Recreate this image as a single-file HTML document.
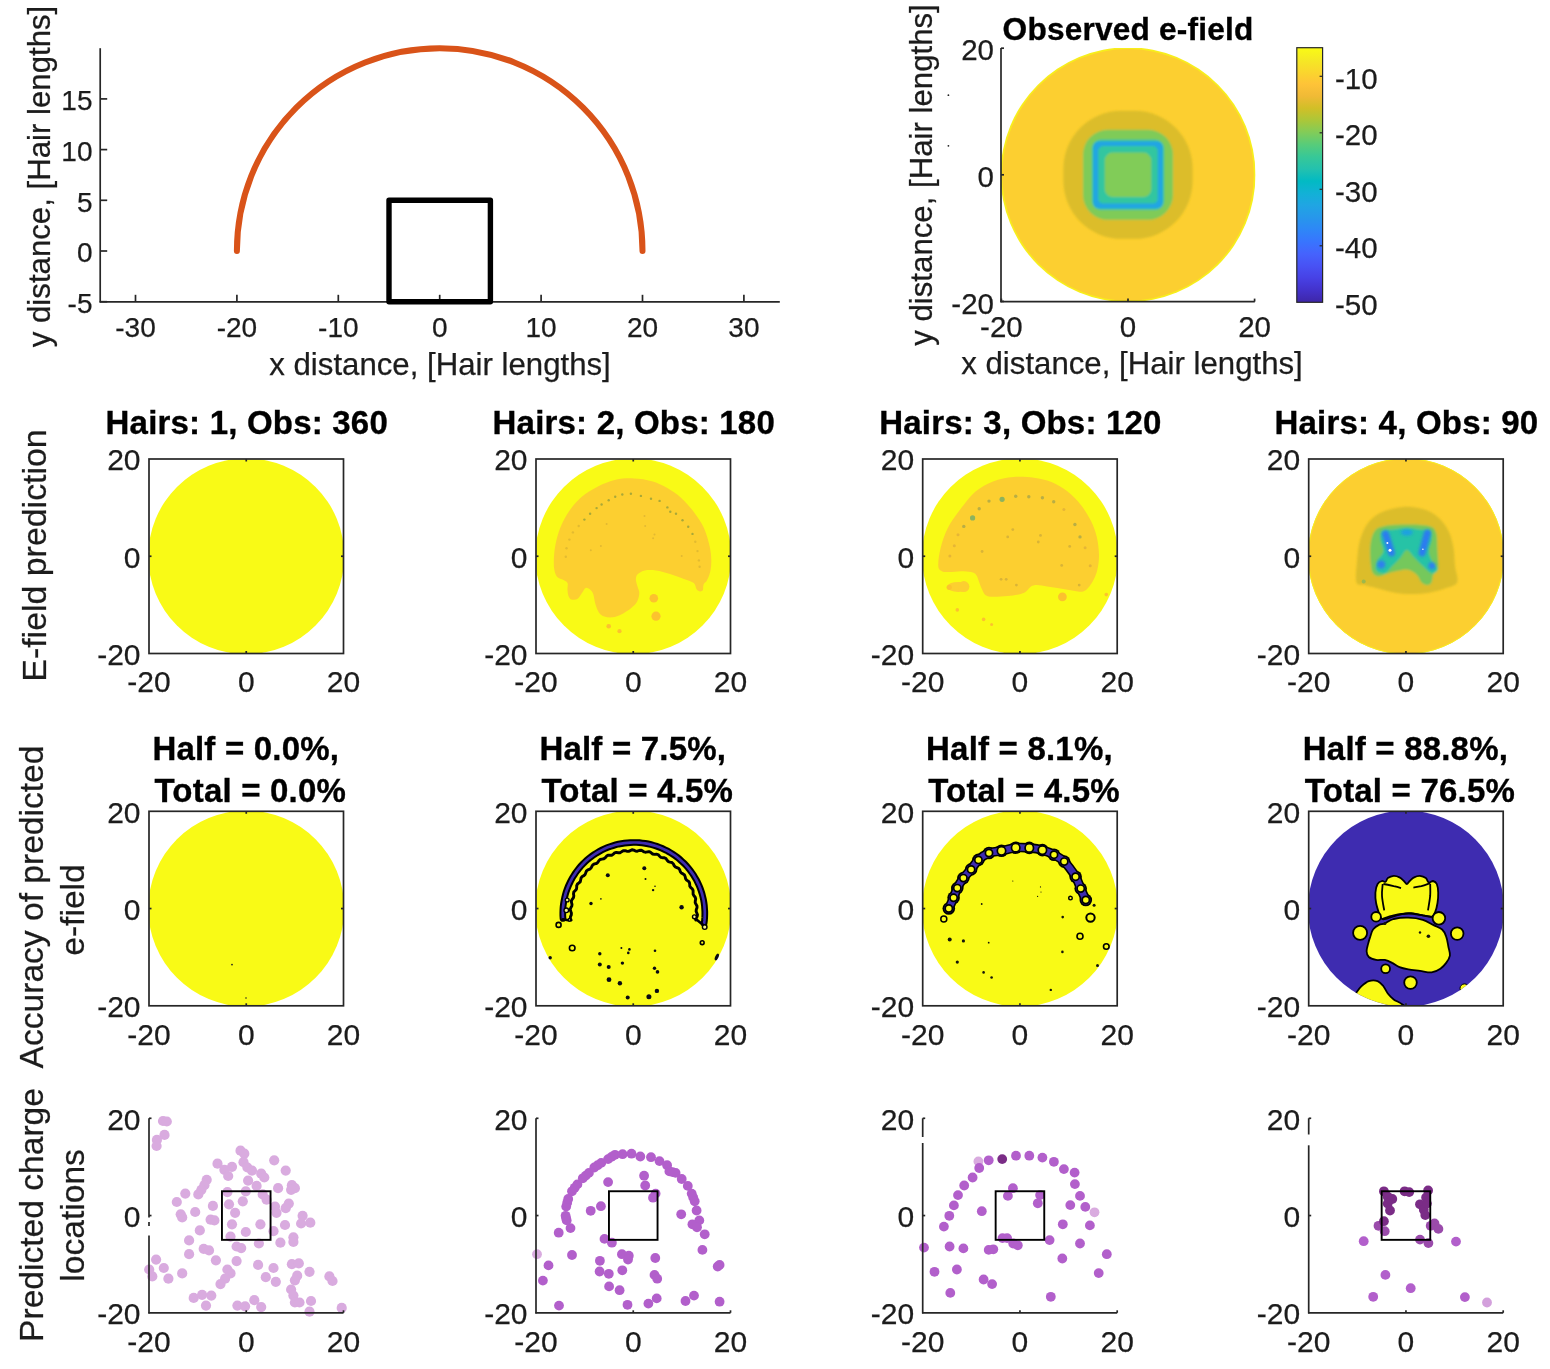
<!DOCTYPE html>
<html><head><meta charset="utf-8"><title>Figure</title>
<style>html,body{margin:0;padding:0;background:#fff}svg{display:block}text{font-family:"Liberation Sans", sans-serif;fill:#1c1c1c;stroke:#1c1c1c;stroke-width:0.25px}</style>
</head><body>
<svg width="1550" height="1369" viewBox="0 0 1550 1369">
<rect width="1550" height="1369" fill="#fff"/>
<line x1="100.2" y1="48.2" x2="100.2" y2="302.45" stroke="#262626" stroke-width="1.7"/>
<line x1="99.55" y1="301.8" x2="779.8" y2="301.8" stroke="#262626" stroke-width="1.7"/>
<line x1="135.49999999999994" y1="301.8" x2="135.49999999999994" y2="294.8" stroke="#262626" stroke-width="1.7"/>
<text x="135.49999999999994" y="336.7" font-size="28" text-anchor="middle" font-weight="normal">-30</text>
<line x1="236.89999999999998" y1="301.8" x2="236.89999999999998" y2="294.8" stroke="#262626" stroke-width="1.7"/>
<text x="236.89999999999998" y="336.7" font-size="28" text-anchor="middle" font-weight="normal">-20</text>
<line x1="338.29999999999995" y1="301.8" x2="338.29999999999995" y2="294.8" stroke="#262626" stroke-width="1.7"/>
<text x="338.29999999999995" y="336.7" font-size="28" text-anchor="middle" font-weight="normal">-10</text>
<line x1="439.7" y1="301.8" x2="439.7" y2="294.8" stroke="#262626" stroke-width="1.7"/>
<text x="439.7" y="336.7" font-size="28" text-anchor="middle" font-weight="normal">0</text>
<line x1="541.1" y1="301.8" x2="541.1" y2="294.8" stroke="#262626" stroke-width="1.7"/>
<text x="541.1" y="336.7" font-size="28" text-anchor="middle" font-weight="normal">10</text>
<line x1="642.5" y1="301.8" x2="642.5" y2="294.8" stroke="#262626" stroke-width="1.7"/>
<text x="642.5" y="336.7" font-size="28" text-anchor="middle" font-weight="normal">20</text>
<line x1="743.9000000000001" y1="301.8" x2="743.9000000000001" y2="294.8" stroke="#262626" stroke-width="1.7"/>
<text x="743.9000000000001" y="336.7" font-size="28" text-anchor="middle" font-weight="normal">30</text>
<line x1="100.2" y1="301.7" x2="107.2" y2="301.7" stroke="#262626" stroke-width="1.7"/>
<text x="92.5" y="312.9" font-size="28" text-anchor="end" font-weight="normal">-5</text>
<line x1="100.2" y1="251.0" x2="107.2" y2="251.0" stroke="#262626" stroke-width="1.7"/>
<text x="92.5" y="262.2" font-size="28" text-anchor="end" font-weight="normal">0</text>
<line x1="100.2" y1="200.3" x2="107.2" y2="200.3" stroke="#262626" stroke-width="1.7"/>
<text x="92.5" y="211.5" font-size="28" text-anchor="end" font-weight="normal">5</text>
<line x1="100.2" y1="149.6" x2="107.2" y2="149.6" stroke="#262626" stroke-width="1.7"/>
<text x="92.5" y="160.79999999999998" font-size="28" text-anchor="end" font-weight="normal">10</text>
<line x1="100.2" y1="98.89999999999998" x2="107.2" y2="98.89999999999998" stroke="#262626" stroke-width="1.7"/>
<text x="92.5" y="110.09999999999998" font-size="28" text-anchor="end" font-weight="normal">15</text>
<path d="M236.89999999999998 251.0 A202.8 202.8 0 0 1 642.5 251.0" fill="none" stroke="#D95319" stroke-width="6" stroke-linecap="round"/>
<rect x="389.0" y="200.3" width="101.4" height="101.4" fill="none" stroke="#000" stroke-width="5.4" stroke-linejoin="round"/>
<text x="440" y="374.8" font-size="31.2" text-anchor="middle" font-weight="normal">x distance, [Hair lengths]</text>
<text x="49.8" y="176.5" font-size="31.2" text-anchor="middle" font-weight="normal" transform="rotate(-90 49.8 176.5)">y distance, [Hair lengths]</text>
<defs><filter id="b1" x="-10%" y="-10%" width="120%" height="120%"><feGaussianBlur stdDeviation="0.9"/></filter><filter id="b2" x="-10%" y="-10%" width="120%" height="120%"><feGaussianBlur stdDeviation="1.6"/></filter></defs>
<clipPath id="ctr"><rect x="1001.0" y="47.9" width="254.59999999999997" height="253.70000000000002"/></clipPath>
<circle cx="1128.0" cy="174.8" r="127.5" fill="#F7EE1C" clip-path="url(#ctr)"/>
<circle cx="1128.0" cy="174.8" r="125.8" fill="#FCCF30"/>
<g filter="url(#b1)">
<rect x="1063.4" y="110.80000000000001" width="129.2" height="128.0" rx="58" ry="58" fill="#DCBD29"/>
<rect x="1083.0" y="129.8" width="90.0" height="90.0" rx="25" ry="25" fill="#7FCB58"/>
<rect x="1091.8" y="139.60000000000002" width="72.4" height="70.4" rx="9" ry="9" fill="#35C79A"/>
<rect x="1093.2" y="141.20000000000002" width="69.6" height="67.2" rx="6" ry="6" fill="#20A5E3"/>
<rect x="1098.2" y="146.0" width="59.6" height="57.6" rx="5" ry="5" fill="#30C6A0"/>
<rect x="1104.7" y="152.60000000000002" width="46.6" height="44.4" rx="8" ry="8" fill="#81CC59"/>
</g>
<line x1="1001.0" y1="47.9" x2="1001.0" y2="302.25" stroke="#262626" stroke-width="1.7"/>
<line x1="1000.35" y1="301.6" x2="1254.8" y2="301.6" stroke="#262626" stroke-width="1.7"/>
<line x1="1001.4" y1="301.6" x2="1001.4" y2="298.6" stroke="#262626" stroke-width="1.7"/>
<text x="1001.4" y="337.3" font-size="29.5" text-anchor="middle" font-weight="normal">-20</text>
<line x1="1001.0" y1="301.4" x2="1004.0" y2="301.4" stroke="#262626" stroke-width="1.7"/>
<text x="994" y="313.59999999999997" font-size="29.5" text-anchor="end" font-weight="normal">-20</text>
<line x1="1128.0" y1="301.6" x2="1128.0" y2="298.6" stroke="#262626" stroke-width="1.7"/>
<text x="1128.0" y="337.3" font-size="29.5" text-anchor="middle" font-weight="normal">0</text>
<line x1="1001.0" y1="174.8" x2="1004.0" y2="174.8" stroke="#262626" stroke-width="1.7"/>
<text x="994" y="187.0" font-size="29.5" text-anchor="end" font-weight="normal">0</text>
<line x1="1254.6" y1="301.6" x2="1254.6" y2="298.6" stroke="#262626" stroke-width="1.7"/>
<text x="1254.6" y="337.3" font-size="29.5" text-anchor="middle" font-weight="normal">20</text>
<line x1="1001.0" y1="48.20000000000002" x2="1004.0" y2="48.20000000000002" stroke="#262626" stroke-width="1.7"/>
<text x="994" y="60.40000000000002" font-size="29.5" text-anchor="end" font-weight="normal">20</text>
<text x="1128" y="39.5" font-size="31.6" text-anchor="middle" font-weight="bold" style="fill:#000;stroke:#000;stroke-width:0.35px;letter-spacing:0.2px">Observed e-field</text>
<text x="1132" y="374" font-size="31.2" text-anchor="middle" font-weight="normal">x distance, [Hair lengths]</text>
<text x="932.3" y="175" font-size="31.2" text-anchor="middle" font-weight="normal" transform="rotate(-90 932.3 175)">y distance, [Hair lengths]</text>
<defs><linearGradient id="par" x1="0" y1="1" x2="0" y2="0"><stop offset="0.0000" stop-color="#3E26A8"/><stop offset="0.0476" stop-color="#4332CB"/><stop offset="0.0952" stop-color="#4741E5"/><stop offset="0.1429" stop-color="#4852F4"/><stop offset="0.1905" stop-color="#4563FD"/><stop offset="0.2381" stop-color="#3875FE"/><stop offset="0.2857" stop-color="#2E87F7"/><stop offset="0.3333" stop-color="#2797EB"/><stop offset="0.3810" stop-color="#20A5E3"/><stop offset="0.4286" stop-color="#12B1D6"/><stop offset="0.4762" stop-color="#02BAC3"/><stop offset="0.5238" stop-color="#24C1AE"/><stop offset="0.5714" stop-color="#37C897"/><stop offset="0.6190" stop-color="#57CC7A"/><stop offset="0.6667" stop-color="#81CC59"/><stop offset="0.7143" stop-color="#ABC739"/><stop offset="0.7619" stop-color="#D1BF27"/><stop offset="0.8095" stop-color="#F0BA36"/><stop offset="0.8571" stop-color="#FEC338"/><stop offset="0.9048" stop-color="#FAD62D"/><stop offset="0.9524" stop-color="#F5E924"/><stop offset="1.0000" stop-color="#F9FB15"/></linearGradient></defs>
<rect x="1296.8" y="47.7" width="25.799999999999955" height="254.60000000000002" fill="url(#par)" stroke="#262626" stroke-width="1.2"/>
<line x1="1322.6" y1="76.30000000000001" x2="1319.6" y2="76.30000000000001" stroke="#262626" stroke-width="1.2"/>
<text x="1335" y="88.9" font-size="29.5" text-anchor="start" font-weight="normal">-10</text>
<line x1="1322.6" y1="132.8" x2="1319.6" y2="132.8" stroke="#262626" stroke-width="1.2"/>
<text x="1335" y="145.4" font-size="29.5" text-anchor="start" font-weight="normal">-20</text>
<line x1="1322.6" y1="189.3" x2="1319.6" y2="189.3" stroke="#262626" stroke-width="1.2"/>
<text x="1335" y="201.9" font-size="29.5" text-anchor="start" font-weight="normal">-30</text>
<line x1="1322.6" y1="245.8" x2="1319.6" y2="245.8" stroke="#262626" stroke-width="1.2"/>
<text x="1335" y="258.40000000000003" font-size="29.5" text-anchor="start" font-weight="normal">-40</text>
<text x="1335" y="314.90000000000003" font-size="29.5" text-anchor="start" font-weight="normal">-50</text>
<circle cx="948.4" cy="95.2" r="0.9" fill="#222"/><circle cx="948.4" cy="145.8" r="0.9" fill="#222"/>
<clipPath id="cb20"><rect x="149.4" y="459.4" width="193.7" height="193.7"/></clipPath>
<circle cx="246.25" cy="556.25" r="98" fill="#F9FA16" clip-path="url(#cb20)"/>
<rect x="149.0" y="459.0" width="194.5" height="194.5" fill="none" stroke="#262626" stroke-width="1.7"/>
<line x1="246.25" y1="653.5" x2="246.25" y2="651.0" stroke="#262626" stroke-width="1.7"/>
<line x1="246.25" y1="459.0" x2="246.25" y2="461.5" stroke="#262626" stroke-width="1.7"/>
<line x1="149.0" y1="556.25" x2="151.5" y2="556.25" stroke="#262626" stroke-width="1.7"/>
<line x1="343.5" y1="556.25" x2="341.0" y2="556.25" stroke="#262626" stroke-width="1.7"/>
<text x="149.0" y="692.3" font-size="30" text-anchor="middle" font-weight="normal">-20</text>
<text x="140.5" y="664.8" font-size="30" text-anchor="end" font-weight="normal">-20</text>
<text x="246.25" y="692.3" font-size="30" text-anchor="middle" font-weight="normal">0</text>
<text x="140.5" y="567.55" font-size="30" text-anchor="end" font-weight="normal">0</text>
<text x="343.5" y="692.3" font-size="30" text-anchor="middle" font-weight="normal">20</text>
<text x="140.5" y="470.3" font-size="30" text-anchor="end" font-weight="normal">20</text>
<text x="246.75" y="434" font-size="33" text-anchor="middle" font-weight="bold" style="fill:#000;stroke:#000;stroke-width:0.35px;letter-spacing:0.2px">Hairs: 1, Obs: 360</text>
<clipPath id="cb21"><rect x="536.4" y="459.4" width="193.7" height="193.7"/></clipPath>
<circle cx="633.25" cy="556.25" r="98" fill="#F9FA16" clip-path="url(#cb21)"/>
<path d="M554.2 569.1 C553.7 566.0 553.7 562.1 553.9 557.9 C554.2 553.7 554.5 549.1 555.6 544.0 C556.7 538.9 558.2 532.8 560.5 527.2 C562.8 521.6 565.9 515.6 569.6 510.5 C573.2 505.4 577.5 500.5 582.1 496.5 C586.8 492.6 591.9 489.5 597.5 486.7 C603.1 483.9 609.6 481.2 615.6 479.8 C621.7 478.4 627.7 478.1 633.8 478.4 C639.8 478.6 646.3 479.5 651.9 481.2 C657.5 482.8 662.4 485.3 667.3 488.1 C672.1 490.9 676.8 494.0 681.2 497.9 C685.6 501.9 690.1 507.0 693.8 511.9 C697.5 516.8 701.0 521.9 703.6 527.2 C706.1 532.6 707.9 538.9 709.1 544.0 C710.4 549.1 711.0 553.5 711.2 557.9 C711.5 562.3 711.2 566.8 710.5 570.5 C709.8 574.2 708.2 577.9 707.0 580.3 C705.9 582.6 704.3 582.8 703.6 584.4 C702.9 586.1 703.4 588.9 702.9 590.0 C702.3 591.2 701.1 591.5 700.1 591.4 C699.0 591.3 697.6 590.7 696.6 589.3 C695.5 587.9 695.9 584.8 693.8 583.1 C691.7 581.3 688.0 580.4 684.0 578.9 C680.1 577.4 674.7 575.4 670.1 574.0 C665.4 572.6 660.3 571.1 656.1 570.5 C651.9 569.9 648.0 569.9 644.9 570.5 C641.9 571.1 639.5 572.6 637.9 574.0 C636.4 575.4 636.0 576.9 635.9 578.9 C635.7 580.8 636.7 583.5 637.3 585.8 C637.8 588.2 639.3 590.3 639.3 592.8 C639.3 595.4 638.6 598.6 637.3 601.2 C635.9 603.8 633.6 606.0 631.0 608.2 C628.3 610.4 624.2 612.9 621.2 614.5 C618.2 616.0 615.6 616.9 612.8 617.3 C610.0 617.6 606.8 617.4 604.4 616.6 C602.1 615.7 600.4 614.5 598.9 612.4 C597.4 610.3 596.3 607.0 595.4 604.0 C594.4 601.0 594.2 596.7 593.3 594.2 C592.4 591.8 591.1 590.4 589.8 589.3 C588.5 588.3 586.9 587.4 585.6 587.9 C584.3 588.5 583.4 591.1 582.1 592.8 C580.8 594.6 579.6 597.2 577.9 598.4 C576.3 599.6 573.9 600.0 572.3 599.8 C570.8 599.6 569.7 598.6 568.9 597.0 C568.0 595.4 567.7 592.4 567.5 590.0 C567.2 587.7 568.3 584.8 567.5 583.1 C566.6 581.3 564.3 580.6 562.6 579.6 C560.8 578.5 558.4 578.5 557.0 576.8 C555.6 575.0 554.7 572.2 554.2 569.1Z" fill="#FCCF30"/>
<circle cx="653.8" cy="598.3" r="4.3" fill="#FCC22E"/>
<circle cx="656.0" cy="616.2" r="4.6" fill="#FCC22E"/>
<circle cx="608.7" cy="626.2" r="2.3" fill="#FCC22E"/>
<circle cx="619.5" cy="631.2" r="2.1" fill="#FCC22E"/>
<circle cx="565.8" cy="556.8" r="1.2" fill="#E3BB30"/>
<circle cx="566.5" cy="548.2" r="1.2" fill="#E3BB30"/>
<circle cx="569.4" cy="539.6" r="1.2" fill="#E3BB30"/>
<circle cx="572.9" cy="532.4" r="1.2" fill="#E3BB30"/>
<circle cx="578.7" cy="526.0" r="1.2" fill="#E3BB30"/>
<circle cx="584.4" cy="519.6" r="1.2" fill="#A9A838"/>
<circle cx="590.1" cy="513.8" r="1.2" fill="#A9A838"/>
<circle cx="596.6" cy="508.1" r="1.2" fill="#A9A838"/>
<circle cx="601.6" cy="504.5" r="1.2" fill="#A9A838"/>
<circle cx="608.7" cy="500.2" r="1.2" fill="#A9A838"/>
<circle cx="615.2" cy="496.7" r="1.2" fill="#A9A838"/>
<circle cx="622.3" cy="494.5" r="1.2" fill="#A9A838"/>
<circle cx="630.9" cy="493.8" r="1.2" fill="#A9A838"/>
<circle cx="640.9" cy="495.9" r="1.2" fill="#A9A838"/>
<circle cx="651.0" cy="498.8" r="1.2" fill="#A9A838"/>
<circle cx="659.6" cy="500.9" r="1.2" fill="#A9A838"/>
<circle cx="667.4" cy="507.4" r="1.2" fill="#A9A838"/>
<circle cx="670.3" cy="511.7" r="1.2" fill="#A9A838"/>
<circle cx="676.0" cy="513.8" r="1.2" fill="#A9A838"/>
<circle cx="682.5" cy="520.3" r="1.2" fill="#A9A838"/>
<circle cx="688.2" cy="526.7" r="1.2" fill="#A9A838"/>
<circle cx="692.5" cy="533.9" r="1.2" fill="#A9A838"/>
<circle cx="695.3" cy="541.8" r="1.2" fill="#E3BB30"/>
<circle cx="697.5" cy="551.1" r="1.2" fill="#E3BB30"/>
<circle cx="698.9" cy="560.4" r="1.2" fill="#E3BB30"/>
<circle cx="699.6" cy="566.8" r="1.2" fill="#E3BB30"/>
<circle cx="644.5" cy="516.0" r="1.0" fill="#E2B932"/>
<circle cx="645.2" cy="526.0" r="1.0" fill="#E2B932"/>
<circle cx="654.5" cy="534.6" r="1.0" fill="#E2B932"/>
<circle cx="653.1" cy="538.2" r="1.0" fill="#E2B932"/>
<circle cx="606.6" cy="523.9" r="1.0" fill="#E2B932"/>
<circle cx="600.9" cy="546.0" r="1.0" fill="#E2B932"/>
<circle cx="590.8" cy="550.3" r="1.0" fill="#E2B932"/>
<circle cx="681.7" cy="556.1" r="1.0" fill="#E2B932"/>
<rect x="536.0" y="459.0" width="194.5" height="194.5" fill="none" stroke="#262626" stroke-width="1.7"/>
<line x1="633.25" y1="653.5" x2="633.25" y2="651.0" stroke="#262626" stroke-width="1.7"/>
<line x1="633.25" y1="459.0" x2="633.25" y2="461.5" stroke="#262626" stroke-width="1.7"/>
<line x1="536.0" y1="556.25" x2="538.5" y2="556.25" stroke="#262626" stroke-width="1.7"/>
<line x1="730.5" y1="556.25" x2="728.0" y2="556.25" stroke="#262626" stroke-width="1.7"/>
<text x="536.0" y="692.3" font-size="30" text-anchor="middle" font-weight="normal">-20</text>
<text x="527.5" y="664.8" font-size="30" text-anchor="end" font-weight="normal">-20</text>
<text x="633.25" y="692.3" font-size="30" text-anchor="middle" font-weight="normal">0</text>
<text x="527.5" y="567.55" font-size="30" text-anchor="end" font-weight="normal">0</text>
<text x="730.5" y="692.3" font-size="30" text-anchor="middle" font-weight="normal">20</text>
<text x="527.5" y="470.3" font-size="30" text-anchor="end" font-weight="normal">20</text>
<text x="633.75" y="434" font-size="33" text-anchor="middle" font-weight="bold" style="fill:#000;stroke:#000;stroke-width:0.35px;letter-spacing:0.2px">Hairs: 2, Obs: 180</text>
<clipPath id="cb22"><rect x="923.1" y="459.4" width="193.7" height="193.7"/></clipPath>
<circle cx="1019.95" cy="556.25" r="98" fill="#F9FA16" clip-path="url(#cb22)"/>
<path d="M938.3 566.1 C938.0 562.3 938.9 554.9 940.5 548.6 C942.0 542.2 944.6 534.5 947.8 528.1 C950.9 521.8 954.8 516.7 959.4 510.6 C964.1 504.5 969.9 496.5 975.5 491.6 C981.1 486.7 986.7 483.8 993.0 481.4 C999.4 478.9 1006.7 477.6 1013.5 477.0 C1020.3 476.4 1027.6 476.9 1034.0 477.7 C1040.3 478.6 1045.9 479.8 1051.5 482.1 C1057.1 484.4 1062.7 487.8 1067.6 491.6 C1072.4 495.4 1076.8 499.9 1080.7 504.7 C1084.6 509.6 1088.2 515.5 1090.9 520.8 C1093.6 526.2 1095.4 531.3 1096.8 536.9 C1098.1 542.5 1098.8 549.1 1099.0 554.4 C1099.1 559.8 1098.4 564.9 1097.5 569.0 C1096.6 573.2 1095.4 576.1 1093.8 579.3 C1092.3 582.4 1090.0 586.0 1088.0 588.0 C1086.1 590.1 1084.4 591.2 1082.2 591.7 C1080.0 592.2 1077.5 591.3 1074.9 590.9 C1072.2 590.6 1069.0 590.0 1066.1 589.5 C1063.2 589.0 1060.5 588.5 1057.3 588.0 C1054.2 587.5 1050.5 587.0 1047.1 586.6 C1043.7 586.1 1039.6 585.1 1036.9 585.1 C1034.2 585.1 1032.7 585.6 1031.0 586.6 C1029.3 587.5 1028.4 589.7 1026.6 590.9 C1024.9 592.2 1024.0 593.0 1020.8 593.9 C1017.6 594.7 1012.3 595.6 1007.7 596.1 C1003.0 596.5 996.7 596.9 993.0 596.8 C989.4 596.7 987.6 596.5 985.7 595.3 C983.9 594.1 983.2 591.7 982.1 589.5 C981.0 587.3 980.1 584.6 979.2 582.2 C978.2 579.7 977.6 576.6 976.2 574.9 C974.9 573.2 973.7 572.6 971.1 572.0 C968.6 571.3 964.6 571.2 960.9 571.2 C957.3 571.2 952.4 572.0 949.2 572.0 C946.1 572.0 943.7 572.2 941.9 571.2 C940.1 570.2 938.5 569.9 938.3 566.1Z" fill="#FCCF30"/>
<ellipse cx="958.3" cy="586.9" rx="11" ry="5" fill="#FCCF30"/>
<circle cx="963.8" cy="586.6" r="5.5" fill="#FCCF30"/>
<circle cx="1062.4" cy="596.8" r="4.4" fill="#FCC22E"/>
<circle cx="949.2" cy="587.3" r="2.6" fill="#FCC22E"/>
<circle cx="957.3" cy="609.9" r="1.8" fill="#FCC22E"/>
<circle cx="983.6" cy="619.4" r="1.8" fill="#FCC22E"/>
<circle cx="991.6" cy="624.5" r="1.5" fill="#FCC22E"/>
<circle cx="1106.3" cy="594.6" r="1.8" fill="#FCC22E"/>
<circle cx="949.9" cy="555.9" r="1.5" fill="#E6B636"/>
<circle cx="954.3" cy="545.7" r="1.5" fill="#E6B636"/>
<circle cx="958.0" cy="534.7" r="1.5" fill="#E6B636"/>
<circle cx="963.8" cy="526.4" r="1.7" fill="#B9AE44"/>
<circle cx="972.6" cy="517.9" r="2.6" fill="#8DB35E"/>
<circle cx="979.2" cy="508.8" r="1.7" fill="#B9AE44"/>
<circle cx="989.0" cy="501.1" r="1.7" fill="#B9AE44"/>
<circle cx="1002.1" cy="499.3" r="2.6" fill="#8DB35E"/>
<circle cx="1015.7" cy="496.3" r="1.7" fill="#B9AE44"/>
<circle cx="1028.8" cy="496.7" r="1.7" fill="#B9AE44"/>
<circle cx="1042.4" cy="497.7" r="1.7" fill="#B9AE44"/>
<circle cx="1053.7" cy="501.8" r="1.7" fill="#B9AE44"/>
<circle cx="1063.9" cy="509.4" r="1.5" fill="#E6B636"/>
<circle cx="1074.9" cy="524.5" r="1.7" fill="#B9AE44"/>
<circle cx="1080.0" cy="536.9" r="1.7" fill="#B9AE44"/>
<circle cx="1085.1" cy="547.8" r="1.5" fill="#E6B636"/>
<circle cx="1090.2" cy="565.8" r="1.5" fill="#E6B636"/>
<circle cx="1012.8" cy="529.6" r="1.4" fill="#D9B437"/>
<circle cx="1007.7" cy="536.9" r="1.4" fill="#D9B437"/>
<circle cx="1040.5" cy="535.4" r="1.4" fill="#D9B437"/>
<circle cx="1038.3" cy="542.0" r="1.4" fill="#D9B437"/>
<circle cx="982.1" cy="551.5" r="1.4" fill="#D9B437"/>
<circle cx="1069.7" cy="546.4" r="1.4" fill="#D9B437"/>
<circle cx="1061.7" cy="565.4" r="1.4" fill="#D9B437"/>
<circle cx="1079.2" cy="585.1" r="1.4" fill="#D9B437"/>
<circle cx="1016.4" cy="585.1" r="1.4" fill="#D9B437"/>
<circle cx="1001.1" cy="579.3" r="1.4" fill="#D9B437"/>
<circle cx="1006.2" cy="579.3" r="1.4" fill="#D9B437"/>
<rect x="922.7" y="459.0" width="194.5" height="194.5" fill="none" stroke="#262626" stroke-width="1.7"/>
<line x1="1019.95" y1="653.5" x2="1019.95" y2="651.0" stroke="#262626" stroke-width="1.7"/>
<line x1="1019.95" y1="459.0" x2="1019.95" y2="461.5" stroke="#262626" stroke-width="1.7"/>
<line x1="922.7" y1="556.25" x2="925.2" y2="556.25" stroke="#262626" stroke-width="1.7"/>
<line x1="1117.2" y1="556.25" x2="1114.7" y2="556.25" stroke="#262626" stroke-width="1.7"/>
<text x="922.7" y="692.3" font-size="30" text-anchor="middle" font-weight="normal">-20</text>
<text x="914.2" y="664.8" font-size="30" text-anchor="end" font-weight="normal">-20</text>
<text x="1019.95" y="692.3" font-size="30" text-anchor="middle" font-weight="normal">0</text>
<text x="914.2" y="567.55" font-size="30" text-anchor="end" font-weight="normal">0</text>
<text x="1117.2" y="692.3" font-size="30" text-anchor="middle" font-weight="normal">20</text>
<text x="914.2" y="470.3" font-size="30" text-anchor="end" font-weight="normal">20</text>
<text x="1020.45" y="434" font-size="33" text-anchor="middle" font-weight="bold" style="fill:#000;stroke:#000;stroke-width:0.35px;letter-spacing:0.2px">Hairs: 3, Obs: 120</text>
<clipPath id="cb23"><rect x="1309.1000000000001" y="459.4" width="193.7" height="193.7"/></clipPath>
<circle cx="1405.95" cy="556.25" r="98" fill="#FCCF30" clip-path="url(#cb23)"/>
<circle cx="1405.95" cy="556.25" r="97.6" fill="none" stroke="#F6EE20" stroke-width="1" clip-path="url(#cb23)"/>
<g filter="url(#b1)">
<path d="M1356.4 582.2 C1355.2 578.0 1356.5 567.3 1357.1 560.3 C1357.7 553.2 1358.3 545.9 1360.1 539.8 C1361.8 533.7 1364.2 528.1 1367.4 523.7 C1370.5 519.4 1374.7 516.1 1379.0 513.5 C1383.4 511.0 1388.3 509.5 1393.7 508.4 C1399.0 507.3 1405.6 506.6 1411.2 506.9 C1416.8 507.3 1422.4 508.5 1427.3 510.6 C1432.1 512.7 1436.8 515.7 1440.4 519.4 C1444.1 523.0 1447.0 527.6 1449.2 532.5 C1451.4 537.4 1452.6 543.0 1453.6 548.6 C1454.5 554.2 1454.4 560.5 1455.0 566.1 C1455.6 571.7 1458.7 578.5 1457.2 582.2 C1455.7 585.8 1450.8 586.3 1446.2 588.0 C1441.7 589.7 1436.0 591.4 1430.2 592.4 C1424.3 593.4 1417.3 593.9 1411.2 593.9 C1405.1 593.9 1399.5 593.4 1393.7 592.4 C1387.8 591.4 1381.0 589.2 1376.1 588.0 C1371.3 586.8 1367.7 586.1 1364.4 585.1 C1361.1 584.1 1357.6 586.3 1356.4 582.2Z" fill="#DCBD29"/>
<path d="M1371.0 566.1 C1370.5 561.5 1369.7 551.5 1370.3 545.7 C1370.9 539.8 1372.2 534.3 1374.7 531.0 C1377.1 527.8 1379.5 527.0 1384.9 525.9 C1390.2 524.8 1399.5 524.5 1406.8 524.5 C1414.1 524.5 1423.8 524.6 1428.7 525.9 C1433.6 527.3 1434.6 528.2 1436.0 532.5 C1437.5 536.8 1437.1 545.4 1437.5 551.5 C1437.8 557.6 1438.9 565.1 1438.2 569.0 C1437.5 572.9 1434.2 572.7 1433.1 574.9 C1432.0 577.1 1432.6 580.5 1431.6 582.2 C1430.7 583.9 1429.0 585.1 1427.3 585.1 C1425.6 585.1 1423.1 583.9 1421.4 582.2 C1419.7 580.5 1419.2 576.9 1417.0 574.9 C1414.8 572.8 1411.2 570.5 1408.3 569.8 C1405.3 569.0 1402.9 569.9 1399.5 570.5 C1396.1 571.1 1391.2 572.4 1387.8 573.4 C1384.4 574.4 1381.5 576.3 1379.0 576.3 C1376.6 576.3 1374.5 575.1 1373.2 573.4 C1371.9 571.7 1371.5 570.7 1371.0 566.1Z" fill="#74C85C"/>
<path d="M1382.0 531.0 C1384.2 529.3 1389.5 530.1 1393.7 529.6 C1397.8 529.1 1402.4 528.1 1406.8 528.1 C1411.2 528.1 1416.1 529.2 1420.0 529.6 C1423.8 530.0 1428.2 528.6 1430.2 530.3 C1432.1 532.0 1431.9 536.3 1431.6 539.8 C1431.4 543.3 1428.5 547.6 1428.7 551.5 C1429.0 555.4 1431.6 560.3 1433.1 563.2 C1434.6 566.1 1437.7 567.3 1437.5 569.0 C1437.2 570.7 1434.1 573.9 1431.6 573.4 C1429.2 572.9 1425.8 568.8 1422.9 566.1 C1420.0 563.4 1416.8 560.0 1414.1 557.3 C1411.4 554.7 1409.2 549.8 1406.8 550.0 C1404.4 550.3 1401.9 556.1 1399.5 558.8 C1397.1 561.5 1394.6 563.7 1392.2 566.1 C1389.8 568.5 1387.6 572.7 1384.9 573.4 C1382.2 574.1 1377.3 572.7 1376.1 570.5 C1374.9 568.3 1376.4 563.4 1377.6 560.3 C1378.8 557.1 1382.9 554.9 1383.4 551.5 C1383.9 548.1 1380.8 543.2 1380.5 539.8 C1380.3 536.4 1379.8 532.8 1382.0 531.0Z" fill="#27C3A6"/>
</g><g filter="url(#b2)">
<line x1="1385.6" y1="534.0" x2="1391.5" y2="553.0" stroke="#2A7CF0" stroke-width="7" stroke-linecap="round"/>
<line x1="1427.3" y1="533.2" x2="1422.1" y2="553.0" stroke="#2A7CF0" stroke-width="7" stroke-linecap="round"/>
<circle cx="1381.2" cy="564.6" r="4.1" fill="#2E80EE"/>
<circle cx="1431.9" cy="565.8" r="3.5" fill="#2E80EE"/>
<ellipse cx="1406.8" cy="532.5" rx="6" ry="3.2" fill="#1EA0E0"/>
</g>
<circle cx="1390.0" cy="550.3" r="1.5" fill="#fff"/>
<circle cx="1387.4" cy="543.0" r="1.0" fill="#fff"/>
<circle cx="1422.9" cy="549.3" r="0.7" fill="#fff"/>
<circle cx="1363.7" cy="581.4" r="2" fill="#9DB84C"/>
<rect x="1308.7" y="459.0" width="194.5" height="194.5" fill="none" stroke="#262626" stroke-width="1.7"/>
<line x1="1405.95" y1="653.5" x2="1405.95" y2="651.0" stroke="#262626" stroke-width="1.7"/>
<line x1="1405.95" y1="459.0" x2="1405.95" y2="461.5" stroke="#262626" stroke-width="1.7"/>
<line x1="1308.7" y1="556.25" x2="1311.2" y2="556.25" stroke="#262626" stroke-width="1.7"/>
<line x1="1503.2" y1="556.25" x2="1500.7" y2="556.25" stroke="#262626" stroke-width="1.7"/>
<text x="1308.7" y="692.3" font-size="30" text-anchor="middle" font-weight="normal">-20</text>
<text x="1300.2" y="664.8" font-size="30" text-anchor="end" font-weight="normal">-20</text>
<text x="1405.95" y="692.3" font-size="30" text-anchor="middle" font-weight="normal">0</text>
<text x="1300.2" y="567.55" font-size="30" text-anchor="end" font-weight="normal">0</text>
<text x="1503.2" y="692.3" font-size="30" text-anchor="middle" font-weight="normal">20</text>
<text x="1300.2" y="470.3" font-size="30" text-anchor="end" font-weight="normal">20</text>
<text x="1406.45" y="434" font-size="33" text-anchor="middle" font-weight="bold" style="fill:#000;stroke:#000;stroke-width:0.35px;letter-spacing:0.2px">Hairs: 4, Obs: 90</text>
<text x="45.6" y="555.5" font-size="33.9" text-anchor="middle" font-weight="normal" transform="rotate(-90 45.6 555.5)">E-field prediction</text>
<clipPath id="cb30"><rect x="149.4" y="811.6999999999999" width="193.7" height="193.7"/></clipPath>
<circle cx="246.25" cy="908.55" r="98" fill="#F9FA16" clip-path="url(#cb30)"/>
<circle cx="232" cy="964.6" r="0.9" fill="#222"/><circle cx="246" cy="998" r="0.8" fill="#222"/>
<rect x="149.0" y="811.3" width="194.5" height="194.5" fill="none" stroke="#262626" stroke-width="1.7"/>
<line x1="246.25" y1="1005.8" x2="246.25" y2="1003.3" stroke="#262626" stroke-width="1.7"/>
<line x1="246.25" y1="811.3" x2="246.25" y2="813.8" stroke="#262626" stroke-width="1.7"/>
<line x1="149.0" y1="908.55" x2="151.5" y2="908.55" stroke="#262626" stroke-width="1.7"/>
<line x1="343.5" y1="908.55" x2="341.0" y2="908.55" stroke="#262626" stroke-width="1.7"/>
<text x="149.0" y="1044.6" font-size="30" text-anchor="middle" font-weight="normal">-20</text>
<text x="140.5" y="1017.0999999999999" font-size="30" text-anchor="end" font-weight="normal">-20</text>
<text x="246.25" y="1044.6" font-size="30" text-anchor="middle" font-weight="normal">0</text>
<text x="140.5" y="919.8499999999999" font-size="30" text-anchor="end" font-weight="normal">0</text>
<text x="343.5" y="1044.6" font-size="30" text-anchor="middle" font-weight="normal">20</text>
<text x="140.5" y="822.5999999999999" font-size="30" text-anchor="end" font-weight="normal">20</text>
<text x="245.75" y="760" font-size="33" text-anchor="middle" font-weight="bold" style="fill:#000;stroke:#000;stroke-width:0.35px;letter-spacing:0.2px">Half = 0.0%,</text>
<text x="250.25" y="801.5" font-size="33" text-anchor="middle" font-weight="bold" style="fill:#000;stroke:#000;stroke-width:0.35px;letter-spacing:0.2px">Total = 0.0%</text>
<clipPath id="cb31"><rect x="536.4" y="811.6999999999999" width="193.7" height="193.7"/></clipPath>
<circle cx="633.25" cy="908.55" r="98" fill="#F9FA16" clip-path="url(#cb31)"/>
<path d="M563.0 918.4 L562.8 915.5 L562.8 912.5 L562.9 909.5 L563.1 906.6 L563.5 903.6 L564.0 900.7 L564.6 897.7 L565.3 894.9 L566.1 892.0 L567.1 889.2 L568.2 886.4 L569.4 883.7 L570.7 881.0 L572.1 878.4 L573.6 875.9 L575.2 873.4 L577.0 870.9 L578.8 868.6 L580.7 866.3 L582.7 864.2 L584.8 862.1 L587.0 860.1 L589.3 858.1 L591.7 856.3 L594.1 854.6 L596.6 853.0 L599.2 851.5 L601.8 850.1 L604.5 848.8 L607.2 847.6 L610.0 846.6 L612.8 845.7 L615.7 844.8 L618.6 844.1 L621.5 843.6 L624.4 843.1 L627.4 842.8 L630.3 842.6 L633.3 842.5 L636.3 842.5 L639.3 842.7 L642.2 843.0 L645.2 843.4 L648.1 843.9 L651.0 844.6 L653.8 845.4 L656.7 846.3 L659.5 847.3 L662.2 848.4 L664.9 849.7 L667.6 851.0 L670.2 852.5 L672.7 854.1 L675.1 855.7 L677.5 857.5 L679.8 859.4 L682.0 861.4 L684.2 863.4 L686.2 865.6 L688.2 867.8 L690.1 870.2 L691.8 872.6 L693.5 875.0 L695.0 877.6 L696.5 880.1 L697.8 882.8 L699.1 885.5 L700.2 888.3 L701.2 891.1 L702.1 893.9 L702.8 896.8 L703.5 899.7 L704.0 902.6 L704.4 905.6 L704.6 908.5 L704.8 911.5 L704.8 914.5 L704.7 917.4 L704.5 920.4 L704.1 923.4" fill="none" stroke="#000" stroke-width="6.7" stroke-linecap="round"/>
<path d="M563.0 918.4 L562.8 915.5 L562.8 912.5 L562.9 909.5 L563.1 906.6 L563.5 903.6 L564.0 900.7 L564.6 897.7 L565.3 894.9 L566.1 892.0 L567.1 889.2 L568.2 886.4 L569.4 883.7 L570.7 881.0 L572.1 878.4 L573.6 875.9 L575.2 873.4 L577.0 870.9 L578.8 868.6 L580.7 866.3 L582.7 864.2 L584.8 862.1 L587.0 860.1 L589.3 858.1 L591.7 856.3 L594.1 854.6 L596.6 853.0 L599.2 851.5 L601.8 850.1 L604.5 848.8 L607.2 847.6 L610.0 846.6 L612.8 845.7 L615.7 844.8 L618.6 844.1 L621.5 843.6 L624.4 843.1 L627.4 842.8 L630.3 842.6 L633.3 842.5 L636.3 842.5 L639.3 842.7 L642.2 843.0 L645.2 843.4 L648.1 843.9 L651.0 844.6 L653.8 845.4 L656.7 846.3 L659.5 847.3 L662.2 848.4 L664.9 849.7 L667.6 851.0 L670.2 852.5 L672.7 854.1 L675.1 855.7 L677.5 857.5 L679.8 859.4 L682.0 861.4 L684.2 863.4 L686.2 865.6 L688.2 867.8 L690.1 870.2 L691.8 872.6 L693.5 875.0 L695.0 877.6 L696.5 880.1 L697.8 882.8 L699.1 885.5 L700.2 888.3 L701.2 891.1 L702.1 893.9 L702.8 896.8 L703.5 899.7 L704.0 902.6 L704.4 905.6 L704.6 908.5 L704.8 911.5 L704.8 914.5 L704.7 917.4 L704.5 920.4 L704.1 923.4" fill="none" stroke="#3E2CB0" stroke-width="2.7" stroke-linecap="round"/>
<path d="M571.1 920.1 L570.3 918.4 L570.5 916.6 L571.3 914.8 L571.4 913.0 L570.7 911.3 L570.2 909.5 L570.8 907.7 L571.8 906.1 L572.0 904.4 L571.5 902.5 L571.4 900.7 L572.4 899.1 L573.5 897.6 L573.8 895.8 L573.5 893.9 L573.8 892.1 L575.1 890.7 L576.4 889.3 L576.7 887.6 L576.7 885.6 L577.5 884.0 L579.0 882.9 L580.3 881.6 L580.7 879.8 L581.1 877.9 L582.2 876.5 L583.9 875.6 L585.2 874.4 L585.8 872.6 L586.5 870.9 L587.9 869.8 L589.8 869.1 L591.1 868.0 L591.9 866.3 L592.9 864.7 L594.5 863.9 L596.4 863.5 L597.8 862.4 L598.8 860.8 L600.1 859.5 L601.9 859.1 L603.8 858.8 L605.2 857.8 L606.4 856.3 L607.9 855.3 L609.8 855.3 L611.7 855.2 L613.2 854.3 L614.6 852.9 L616.3 852.4 L618.2 852.7 L620.0 852.7 L621.6 851.8 L623.2 850.8 L625.0 850.6 L626.8 851.2 L628.6 851.4 L630.3 850.6 L632.0 849.8 L633.8 850.1 L635.5 851.0 L637.3 851.2 L639.1 850.5 L640.9 850.2 L642.6 850.9 L644.2 851.9 L645.9 852.2 L647.8 851.8 L649.6 851.8 L651.2 852.8 L652.7 854.0 L654.4 854.4 L656.3 854.2 L658.1 854.6 L659.4 856.0 L660.7 857.3 L662.5 857.7 L664.4 857.8 L666.0 858.6 L667.1 860.2 L668.3 861.6 L670.0 862.1 L671.9 862.5 L673.2 863.7 L674.1 865.5 L675.2 866.9 L676.9 867.6 L678.7 868.3 L679.7 869.8 L680.3 871.6 L681.3 873.0 L683.0 873.9 L684.5 875.0 L685.2 876.7 L685.6 878.6 L686.5 880.0 L688.2 881.1 L689.4 882.4 L689.7 884.3 L689.8 886.1 L690.8 887.6 L692.3 888.9 L693.1 890.5 L693.1 892.4 L693.1 894.2 L694.0 895.8 L695.2 897.2 L695.7 899.0 L695.3 900.9 L695.2 902.7 L696.0 904.3 L697.0 905.9 L697.0 907.7 L696.3 909.5 L696.1 911.3 L696.8 913.0 L697.5 914.8 L697.1 916.6 L696.1 918.3 L695.8 920.0" fill="none" stroke="#000" stroke-width="2.9" stroke-linecap="round" stroke-linejoin="round"/>
<line x1="569.5" y1="920.5" x2="562.9" y2="919.3" stroke="#000" stroke-width="2.6" stroke-linecap="round"/>
<line x1="694.9" y1="918.3" x2="705.1" y2="926.6" stroke="#000" stroke-width="2.6" stroke-linecap="round"/>
<circle cx="567.2" cy="900.0" r="1.9" fill="#F4F48A" stroke="#000" stroke-width="1.4"/>
<circle cx="566.3" cy="910.3" r="2.3" fill="#F4F48A" stroke="#000" stroke-width="1.4"/>
<circle cx="569.5" cy="919.8" r="1.3" fill="#F4F48A" stroke="#000" stroke-width="1.4"/>
<circle cx="694.4" cy="916.8" r="1.9" fill="#F4F48A" stroke="#000" stroke-width="1.4"/>
<circle cx="704.7" cy="927.1" r="2.3" fill="#F4F48A" stroke="#000" stroke-width="1.4"/>
<circle cx="558.6" cy="924.9" r="2.5" fill="#F9FA16" stroke="#000" stroke-width="1.6"/>
<circle cx="572.2" cy="948.0" r="2.8" fill="#F9FA16" stroke="#000" stroke-width="1.6"/>
<circle cx="702.2" cy="942.7" r="1.9" fill="#F9FA16" stroke="#000" stroke-width="1.6"/>
<circle cx="644.3" cy="868.3" r="2.0" fill="#0A0A14"/>
<circle cx="607.8" cy="875.2" r="2.0" fill="#0A0A14"/>
<circle cx="645.5" cy="878.9" r="1.0" fill="#0A0A14"/>
<circle cx="655.0" cy="886.2" r="0.8" fill="#0A0A14"/>
<circle cx="653.1" cy="890.1" r="1.2" fill="#0A0A14"/>
<circle cx="600.9" cy="898.9" r="0.8" fill="#0A0A14"/>
<circle cx="591.0" cy="903.5" r="1.7" fill="#0A0A14"/>
<circle cx="681.6" cy="907.2" r="2.2" fill="#0A0A14"/>
<circle cx="550.2" cy="957.7" r="1.7" fill="#0A0A14"/>
<circle cx="621.4" cy="948.0" r="1.0" fill="#0A0A14"/>
<circle cx="629.4" cy="949.4" r="1.3" fill="#0A0A14"/>
<circle cx="628.3" cy="952.9" r="1.3" fill="#0A0A14"/>
<circle cx="655.0" cy="950.7" r="1.3" fill="#0A0A14"/>
<circle cx="599.8" cy="953.7" r="1.7" fill="#0A0A14"/>
<circle cx="599.8" cy="964.6" r="2.0" fill="#0A0A14"/>
<circle cx="608.7" cy="966.9" r="2.0" fill="#0A0A14"/>
<circle cx="622.4" cy="963.1" r="1.7" fill="#0A0A14"/>
<circle cx="654.5" cy="968.3" r="1.7" fill="#0A0A14"/>
<circle cx="657.5" cy="971.9" r="1.8" fill="#0A0A14"/>
<circle cx="609.0" cy="979.7" r="2.4" fill="#0A0A14"/>
<circle cx="619.9" cy="983.3" r="2.2" fill="#0A0A14"/>
<circle cx="656.9" cy="990.9" r="2.2" fill="#0A0A14"/>
<circle cx="648.9" cy="996.8" r="2.5" fill="#0A0A14"/>
<circle cx="627.7" cy="997.6" r="2.0" fill="#0A0A14"/>
<ellipse cx="716.8" cy="957.0" rx="1.6" ry="3.6" fill="#0A0A14" transform="rotate(25 716.8 957.0)"/>
<rect x="536.0" y="811.3" width="194.5" height="194.5" fill="none" stroke="#262626" stroke-width="1.7"/>
<line x1="633.25" y1="1005.8" x2="633.25" y2="1003.3" stroke="#262626" stroke-width="1.7"/>
<line x1="633.25" y1="811.3" x2="633.25" y2="813.8" stroke="#262626" stroke-width="1.7"/>
<line x1="536.0" y1="908.55" x2="538.5" y2="908.55" stroke="#262626" stroke-width="1.7"/>
<line x1="730.5" y1="908.55" x2="728.0" y2="908.55" stroke="#262626" stroke-width="1.7"/>
<text x="536.0" y="1044.6" font-size="30" text-anchor="middle" font-weight="normal">-20</text>
<text x="527.5" y="1017.0999999999999" font-size="30" text-anchor="end" font-weight="normal">-20</text>
<text x="633.25" y="1044.6" font-size="30" text-anchor="middle" font-weight="normal">0</text>
<text x="527.5" y="919.8499999999999" font-size="30" text-anchor="end" font-weight="normal">0</text>
<text x="730.5" y="1044.6" font-size="30" text-anchor="middle" font-weight="normal">20</text>
<text x="527.5" y="822.5999999999999" font-size="30" text-anchor="end" font-weight="normal">20</text>
<text x="632.75" y="760" font-size="33" text-anchor="middle" font-weight="bold" style="fill:#000;stroke:#000;stroke-width:0.35px;letter-spacing:0.2px">Half = 7.5%,</text>
<text x="637.25" y="801.5" font-size="33" text-anchor="middle" font-weight="bold" style="fill:#000;stroke:#000;stroke-width:0.35px;letter-spacing:0.2px">Total = 4.5%</text>
<clipPath id="cb32"><rect x="923.1" y="811.6999999999999" width="193.7" height="193.7"/></clipPath>
<circle cx="1019.95" cy="908.55" r="98" fill="#F9FA16" clip-path="url(#cb32)"/>
<path d="M948.8 908.5 C949.6 906.7 952.2 901.3 953.6 897.8 C955.0 894.4 955.6 891.3 957.3 888.1 C958.9 884.8 961.1 881.2 963.4 878.1 C965.7 875.0 968.6 872.4 971.1 869.4 C973.6 866.3 975.5 862.6 978.4 859.9 C981.4 857.1 985.1 854.5 989.0 853.0 C992.8 851.5 997.1 851.7 1001.5 850.8 C1006.0 849.9 1011.1 848.2 1015.7 847.7 C1020.3 847.3 1024.8 847.5 1029.3 847.9 C1033.7 848.3 1038.3 848.9 1042.4 850.1 C1046.5 851.2 1050.3 852.8 1054.0 854.7 C1057.6 856.7 1060.6 858.0 1064.2 861.6 C1067.8 865.3 1072.8 872.2 1075.6 876.7 C1078.3 881.2 1079.0 884.7 1080.7 888.6 C1082.4 892.5 1085.0 898.1 1085.8 900.0" fill="none" stroke="#000" stroke-width="9.6" stroke-linecap="round" stroke-linejoin="round"/>
<circle cx="948.8" cy="908.5" r="6.3" fill="#000"/>
<circle cx="953.6" cy="897.8" r="6.3" fill="#000"/>
<circle cx="957.3" cy="888.1" r="6.3" fill="#000"/>
<circle cx="963.4" cy="878.1" r="6.3" fill="#000"/>
<circle cx="971.1" cy="869.4" r="6.3" fill="#000"/>
<circle cx="978.4" cy="859.9" r="6.3" fill="#000"/>
<circle cx="989.0" cy="853.0" r="6.3" fill="#000"/>
<circle cx="1001.5" cy="850.8" r="6.3" fill="#000"/>
<circle cx="1015.7" cy="847.7" r="6.3" fill="#000"/>
<circle cx="1029.3" cy="847.9" r="6.3" fill="#000"/>
<circle cx="1042.4" cy="850.1" r="6.3" fill="#000"/>
<circle cx="1054.0" cy="854.7" r="6.3" fill="#000"/>
<circle cx="1064.2" cy="861.6" r="6.3" fill="#000"/>
<circle cx="1075.6" cy="876.7" r="6.3" fill="#000"/>
<circle cx="1080.7" cy="888.6" r="6.3" fill="#000"/>
<circle cx="1085.8" cy="900.0" r="6.3" fill="#000"/>
<path d="M948.8 908.5 C949.6 906.7 952.2 901.3 953.6 897.8 C955.0 894.4 955.6 891.3 957.3 888.1 C958.9 884.8 961.1 881.2 963.4 878.1 C965.7 875.0 968.6 872.4 971.1 869.4 C973.6 866.3 975.5 862.6 978.4 859.9 C981.4 857.1 985.1 854.5 989.0 853.0 C992.8 851.5 997.1 851.7 1001.5 850.8 C1006.0 849.9 1011.1 848.2 1015.7 847.7 C1020.3 847.3 1024.8 847.5 1029.3 847.9 C1033.7 848.3 1038.3 848.9 1042.4 850.1 C1046.5 851.2 1050.3 852.8 1054.0 854.7 C1057.6 856.7 1060.6 858.0 1064.2 861.6 C1067.8 865.3 1072.8 872.2 1075.6 876.7 C1078.3 881.2 1079.0 884.7 1080.7 888.6 C1082.4 892.5 1085.0 898.1 1085.8 900.0" fill="none" stroke="#3E2CB0" stroke-width="6.4" stroke-linecap="round" stroke-linejoin="round"/>
<circle cx="948.8" cy="908.5" r="4.5" fill="#3E2CB0"/>
<circle cx="953.6" cy="897.8" r="4.5" fill="#3E2CB0"/>
<circle cx="957.3" cy="888.1" r="4.5" fill="#3E2CB0"/>
<circle cx="963.4" cy="878.1" r="4.5" fill="#3E2CB0"/>
<circle cx="971.1" cy="869.4" r="4.5" fill="#3E2CB0"/>
<circle cx="978.4" cy="859.9" r="4.5" fill="#3E2CB0"/>
<circle cx="989.0" cy="853.0" r="4.5" fill="#3E2CB0"/>
<circle cx="1001.5" cy="850.8" r="4.5" fill="#3E2CB0"/>
<circle cx="1015.7" cy="847.7" r="4.5" fill="#3E2CB0"/>
<circle cx="1029.3" cy="847.9" r="4.5" fill="#3E2CB0"/>
<circle cx="1042.4" cy="850.1" r="4.5" fill="#3E2CB0"/>
<circle cx="1054.0" cy="854.7" r="4.5" fill="#3E2CB0"/>
<circle cx="1064.2" cy="861.6" r="4.5" fill="#3E2CB0"/>
<circle cx="1075.6" cy="876.7" r="4.5" fill="#3E2CB0"/>
<circle cx="1080.7" cy="888.6" r="4.5" fill="#3E2CB0"/>
<circle cx="1085.8" cy="900.0" r="4.5" fill="#3E2CB0"/>
<circle cx="948.8" cy="908.5" r="3.6" fill="#F9FA16" stroke="#000" stroke-width="1.7"/>
<circle cx="953.6" cy="897.8" r="3.6" fill="#F9FA16" stroke="#000" stroke-width="1.7"/>
<circle cx="957.3" cy="888.1" r="3.6" fill="#F9FA16" stroke="#000" stroke-width="1.7"/>
<circle cx="963.4" cy="878.1" r="3.6" fill="#F9FA16" stroke="#000" stroke-width="1.7"/>
<circle cx="971.1" cy="869.4" r="3.6" fill="#F9FA16" stroke="#000" stroke-width="1.7"/>
<circle cx="978.4" cy="859.9" r="3.6" fill="#F9FA16" stroke="#000" stroke-width="1.7"/>
<circle cx="989.0" cy="853.0" r="3.6" fill="#F9FA16" stroke="#000" stroke-width="1.7"/>
<circle cx="1001.5" cy="850.8" r="4.2" fill="#F9FA16" stroke="#000" stroke-width="1.7"/>
<circle cx="1015.7" cy="847.7" r="4.2" fill="#F9FA16" stroke="#000" stroke-width="1.7"/>
<circle cx="1029.3" cy="847.9" r="4.2" fill="#F9FA16" stroke="#000" stroke-width="1.7"/>
<circle cx="1042.4" cy="850.1" r="4.2" fill="#F9FA16" stroke="#000" stroke-width="1.7"/>
<circle cx="1054.0" cy="854.7" r="3.6" fill="#F9FA16" stroke="#000" stroke-width="1.7"/>
<circle cx="1064.2" cy="861.6" r="3.6" fill="#F9FA16" stroke="#000" stroke-width="1.7"/>
<circle cx="1075.6" cy="876.7" r="3.6" fill="#F9FA16" stroke="#000" stroke-width="1.7"/>
<circle cx="1080.7" cy="888.6" r="3.6" fill="#F9FA16" stroke="#000" stroke-width="1.7"/>
<circle cx="1085.8" cy="900.0" r="3.6" fill="#F9FA16" stroke="#000" stroke-width="1.7"/>
<circle cx="943.8" cy="919.0" r="3.0" fill="#F9FA16" stroke="#000" stroke-width="1.5"/>
<circle cx="1090.5" cy="917.6" r="4.2" fill="#F9FA16" stroke="#000" stroke-width="2.0"/>
<circle cx="1080.0" cy="936.3" r="3.0" fill="#F9FA16" stroke="#000" stroke-width="1.6"/>
<circle cx="1106.3" cy="946.5" r="2.8" fill="#F9FA16" stroke="#000" stroke-width="1.6"/>
<circle cx="1070.5" cy="898.1" r="1.8" fill="#F9FA16" stroke="#000" stroke-width="1.4"/>
<circle cx="1094.1" cy="905.2" r="1.5" fill="#15150A"/>
<circle cx="1062.7" cy="917.1" r="1.3" fill="#15150A"/>
<circle cx="949.7" cy="939.5" r="2.0" fill="#15150A"/>
<circle cx="963.4" cy="940.9" r="1.6" fill="#15150A"/>
<circle cx="988.7" cy="942.7" r="0.9" fill="#15150A"/>
<circle cx="1062.4" cy="951.9" r="1.3" fill="#15150A"/>
<circle cx="957.3" cy="962.1" r="1.6" fill="#15150A"/>
<circle cx="983.6" cy="972.4" r="1.3" fill="#15150A"/>
<circle cx="991.6" cy="977.5" r="1.3" fill="#15150A"/>
<circle cx="1050.8" cy="989.9" r="1.2" fill="#15150A"/>
<circle cx="1097.5" cy="965.5" r="1.5" fill="#15150A"/>
<circle cx="981.7" cy="904.0" r="0.9" fill="#15150A"/>
<circle cx="1012.8" cy="881.0" r="0.6" fill="#15150A"/>
<circle cx="1040.5" cy="886.9" r="0.6" fill="#15150A"/>
<circle cx="1041.0" cy="892.0" r="0.6" fill="#15150A"/>
<circle cx="1037.6" cy="896.4" r="0.6" fill="#15150A"/>
<rect x="922.7" y="811.3" width="194.5" height="194.5" fill="none" stroke="#262626" stroke-width="1.7"/>
<line x1="1019.95" y1="1005.8" x2="1019.95" y2="1003.3" stroke="#262626" stroke-width="1.7"/>
<line x1="1019.95" y1="811.3" x2="1019.95" y2="813.8" stroke="#262626" stroke-width="1.7"/>
<line x1="922.7" y1="908.55" x2="925.2" y2="908.55" stroke="#262626" stroke-width="1.7"/>
<line x1="1117.2" y1="908.55" x2="1114.7" y2="908.55" stroke="#262626" stroke-width="1.7"/>
<text x="922.7" y="1044.6" font-size="30" text-anchor="middle" font-weight="normal">-20</text>
<text x="914.2" y="1017.0999999999999" font-size="30" text-anchor="end" font-weight="normal">-20</text>
<text x="1019.95" y="1044.6" font-size="30" text-anchor="middle" font-weight="normal">0</text>
<text x="914.2" y="919.8499999999999" font-size="30" text-anchor="end" font-weight="normal">0</text>
<text x="1117.2" y="1044.6" font-size="30" text-anchor="middle" font-weight="normal">20</text>
<text x="914.2" y="822.5999999999999" font-size="30" text-anchor="end" font-weight="normal">20</text>
<text x="1019.45" y="760" font-size="33" text-anchor="middle" font-weight="bold" style="fill:#000;stroke:#000;stroke-width:0.35px;letter-spacing:0.2px">Half = 8.1%,</text>
<text x="1023.95" y="801.5" font-size="33" text-anchor="middle" font-weight="bold" style="fill:#000;stroke:#000;stroke-width:0.35px;letter-spacing:0.2px">Total = 4.5%</text>
<clipPath id="cb33"><rect x="1309.1000000000001" y="811.6999999999999" width="193.7" height="193.7"/></clipPath>
<circle cx="1405.95" cy="908.55" r="98" fill="#3E2CB0" clip-path="url(#cb33)"/>
<clipPath id="c34"><circle cx="1405.95" cy="908.55" r="98" clip-path="url(#cb33)"/></clipPath><g clip-path="url(#c34)" stroke="#000" stroke-width="1.8" fill="#F9FA16" stroke-linejoin="round">
<path d="M1379.0 913.2 C1378.1 910.5 1376.7 906.4 1376.1 903.0 C1375.5 899.6 1375.2 895.9 1375.4 892.7 C1375.6 889.6 1376.5 885.9 1377.6 884.0 C1378.7 882.0 1380.6 881.4 1382.0 881.0 C1383.3 880.7 1384.6 882.3 1385.6 881.8 C1386.6 881.3 1386.5 879.1 1387.8 878.1 C1389.2 877.2 1391.7 876.1 1393.7 875.9 C1395.6 875.8 1397.8 876.5 1399.5 877.4 C1401.2 878.2 1402.7 880.0 1403.9 881.0 C1405.1 882.1 1405.8 884.0 1406.8 884.0 C1407.8 884.0 1408.5 882.1 1409.7 881.0 C1410.9 880.0 1412.4 878.2 1414.1 877.4 C1415.8 876.5 1418.0 875.8 1420.0 875.9 C1421.9 876.1 1424.3 877.0 1425.8 878.1 C1427.3 879.2 1427.5 882.0 1428.7 882.5 C1429.9 883.0 1431.8 880.8 1433.1 881.0 C1434.4 881.3 1435.9 882.0 1436.8 884.0 C1437.6 885.9 1438.1 889.6 1438.2 892.7 C1438.3 895.9 1438.0 899.8 1437.5 903.0 C1437.0 906.1 1436.3 909.4 1435.3 911.7 C1434.3 914.0 1433.7 916.2 1431.6 916.8 C1429.6 917.4 1426.3 916.0 1422.9 915.4 C1419.5 914.8 1415.1 913.3 1411.2 913.2 C1407.3 913.1 1403.4 913.8 1399.5 914.6 C1395.6 915.5 1390.7 917.6 1387.8 918.3 C1384.9 919.0 1383.4 919.9 1382.0 919.0 C1380.5 918.2 1380.0 915.9 1379.0 913.2Z"/>
<path d="M1384.9 923.4 C1387.3 922.4 1389.8 920.0 1393.7 919.0 C1397.6 918.1 1403.4 917.4 1408.3 917.6 C1413.1 917.7 1418.7 918.5 1422.9 919.8 C1427.0 921.0 1429.9 923.3 1433.1 924.9 C1436.3 926.5 1439.7 927.3 1441.9 929.3 C1444.1 931.2 1445.2 933.6 1446.2 936.6 C1447.3 939.5 1447.8 943.6 1448.4 946.8 C1449.0 950.0 1450.3 952.9 1449.9 955.6 C1449.5 958.2 1447.8 960.7 1446.2 962.9 C1444.7 965.0 1442.8 967.1 1440.4 968.7 C1438.0 970.3 1435.0 972.0 1431.6 972.4 C1428.2 972.7 1423.8 971.4 1420.0 970.9 C1416.1 970.4 1411.7 970.0 1408.3 969.4 C1404.9 968.8 1402.2 968.3 1399.5 967.2 C1396.8 966.1 1394.6 964.1 1392.2 962.9 C1389.8 961.6 1387.6 960.4 1384.9 959.9 C1382.2 959.4 1378.8 960.4 1376.1 959.9 C1373.4 959.4 1370.4 958.5 1368.8 957.0 C1367.2 955.6 1366.7 953.4 1366.6 951.2 C1366.5 949.0 1367.5 946.3 1368.1 943.9 C1368.7 941.4 1369.4 939.0 1370.3 936.6 C1371.1 934.1 1371.7 931.2 1373.2 929.3 C1374.7 927.3 1377.1 925.8 1379.0 924.9 C1381.0 923.9 1382.5 924.4 1384.9 923.4Z"/>
<circle cx="1360.1" cy="932.9" r="7.0"/>
<circle cx="1376.1" cy="916.8" r="4.8"/>
<circle cx="1438.9" cy="918.3" r="6.3"/>
<circle cx="1457.2" cy="933.6" r="6.3"/>
<circle cx="1385.6" cy="968.7" r="4.4"/>
<circle cx="1410.5" cy="982.6" r="6.3"/>
<path d="M1349.8 1002.3 C1350.8 999.1 1353.7 996.2 1355.7 993.5 C1357.6 990.9 1359.3 988.3 1361.5 986.2 C1363.7 984.2 1366.1 982.0 1368.8 981.1 C1371.5 980.3 1375.2 980.3 1377.6 981.1 C1380.0 982.0 1381.7 984.2 1383.4 986.2 C1385.1 988.3 1386.1 991.3 1387.8 993.5 C1389.5 995.7 1391.2 997.6 1393.7 999.4 C1396.1 1001.2 1400.0 1002.3 1402.4 1004.5 C1404.9 1006.7 1417.0 1011.2 1408.3 1012.5 C1399.5 1013.9 1359.6 1014.2 1349.8 1012.5 C1340.1 1010.8 1348.9 1005.5 1349.8 1002.3Z"/>
<circle cx="1464.5" cy="988.4" r="4.5" stroke-width="1"/>
<path d="M1382.7 884.0 C1382.6 885.9 1381.7 891.3 1382.0 895.7 C1382.2 900.0 1383.8 907.8 1384.2 910.3" fill="none"/>
<path d="M1430.2 884.0 C1430.2 885.9 1430.5 891.3 1430.2 895.7 C1429.8 900.0 1428.4 907.8 1428.0 910.3" fill="none"/>
<path d="M1383.4 884.0 C1385.1 884.3 1390.7 885.5 1393.7 886.2 C1396.6 886.8 1399.7 887.7 1401.0 888.1" fill="none"/>
<path d="M1430.2 883.2 C1428.7 883.7 1424.2 885.4 1421.4 886.2 C1418.6 886.9 1414.7 887.4 1413.4 887.6" fill="none"/>
<path d="M1382.0 919.0 C1383.9 918.4 1389.3 916.3 1393.7 915.4 C1398.0 914.5 1403.4 913.5 1408.3 913.5 C1413.1 913.5 1419.0 914.8 1422.9 915.4 C1426.8 915.9 1430.2 916.6 1431.6 916.8" fill="none"/>
</g>
<circle cx="1420.0" cy="932.5" r="1.2" fill="#15150A"/>
<circle cx="1428.4" cy="936.3" r="1.8" fill="#15150A"/>
<circle cx="1384.9" cy="923.4" r="1.5" fill="#15150A"/>
<rect x="1308.7" y="811.3" width="194.5" height="194.5" fill="none" stroke="#262626" stroke-width="1.7"/>
<line x1="1405.95" y1="1005.8" x2="1405.95" y2="1003.3" stroke="#262626" stroke-width="1.7"/>
<line x1="1405.95" y1="811.3" x2="1405.95" y2="813.8" stroke="#262626" stroke-width="1.7"/>
<line x1="1308.7" y1="908.55" x2="1311.2" y2="908.55" stroke="#262626" stroke-width="1.7"/>
<line x1="1503.2" y1="908.55" x2="1500.7" y2="908.55" stroke="#262626" stroke-width="1.7"/>
<text x="1308.7" y="1044.6" font-size="30" text-anchor="middle" font-weight="normal">-20</text>
<text x="1300.2" y="1017.0999999999999" font-size="30" text-anchor="end" font-weight="normal">-20</text>
<text x="1405.95" y="1044.6" font-size="30" text-anchor="middle" font-weight="normal">0</text>
<text x="1300.2" y="919.8499999999999" font-size="30" text-anchor="end" font-weight="normal">0</text>
<text x="1503.2" y="1044.6" font-size="30" text-anchor="middle" font-weight="normal">20</text>
<text x="1300.2" y="822.5999999999999" font-size="30" text-anchor="end" font-weight="normal">20</text>
<text x="1405.45" y="760" font-size="33" text-anchor="middle" font-weight="bold" style="fill:#000;stroke:#000;stroke-width:0.35px;letter-spacing:0.2px">Half = 88.8%,</text>
<text x="1409.95" y="801.5" font-size="33" text-anchor="middle" font-weight="bold" style="fill:#000;stroke:#000;stroke-width:0.35px;letter-spacing:0.2px">Total = 76.5%</text>
<text x="43.4" y="907" font-size="33.6" text-anchor="middle" font-weight="normal" transform="rotate(-90 43.4 907)">Accuracy of predicted</text>
<text x="84" y="910" font-size="33.6" text-anchor="middle" font-weight="normal" transform="rotate(-90 84 910)">e-field</text>
<circle cx="163.0" cy="1121.0" r="5.1" fill="#D9ABDF"/>
<circle cx="166.8" cy="1121.5" r="5.1" fill="#D9ABDF"/>
<circle cx="164.5" cy="1134.9" r="5.1" fill="#D9ABDF"/>
<circle cx="156.9" cy="1139.9" r="5.1" fill="#D9ABDF"/>
<circle cx="156.6" cy="1146.0" r="5.1" fill="#D9ABDF"/>
<circle cx="240.5" cy="1150.7" r="5.1" fill="#D9ABDF"/>
<circle cx="244.3" cy="1153.7" r="5.1" fill="#D9ABDF"/>
<circle cx="274.2" cy="1160.3" r="5.1" fill="#D9ABDF"/>
<circle cx="217.5" cy="1163.7" r="5.1" fill="#D9ABDF"/>
<circle cx="243.5" cy="1162.2" r="5.1" fill="#D9ABDF"/>
<circle cx="247.4" cy="1167.5" r="5.1" fill="#D9ABDF"/>
<circle cx="252.0" cy="1170.6" r="5.1" fill="#D9ABDF"/>
<circle cx="232.0" cy="1166.8" r="5.1" fill="#D9ABDF"/>
<circle cx="224.4" cy="1169.8" r="5.1" fill="#D9ABDF"/>
<circle cx="228.2" cy="1176.0" r="5.1" fill="#D9ABDF"/>
<circle cx="285.7" cy="1170.6" r="5.1" fill="#D9ABDF"/>
<circle cx="261.2" cy="1173.7" r="5.1" fill="#D9ABDF"/>
<circle cx="264.3" cy="1177.5" r="5.1" fill="#D9ABDF"/>
<circle cx="248.1" cy="1180.6" r="5.1" fill="#D9ABDF"/>
<circle cx="206.7" cy="1179.8" r="5.1" fill="#D9ABDF"/>
<circle cx="204.4" cy="1185.2" r="5.1" fill="#D9ABDF"/>
<circle cx="201.4" cy="1189.8" r="5.1" fill="#D9ABDF"/>
<circle cx="198.3" cy="1194.4" r="5.1" fill="#D9ABDF"/>
<circle cx="256.6" cy="1185.9" r="5.1" fill="#D9ABDF"/>
<circle cx="291.9" cy="1185.2" r="5.1" fill="#D9ABDF"/>
<circle cx="294.9" cy="1188.2" r="5.1" fill="#D9ABDF"/>
<circle cx="291.1" cy="1189.8" r="5.1" fill="#D9ABDF"/>
<circle cx="278.1" cy="1188.2" r="5.1" fill="#D9ABDF"/>
<circle cx="185.3" cy="1193.6" r="5.1" fill="#D9ABDF"/>
<circle cx="245.8" cy="1191.3" r="5.1" fill="#D9ABDF"/>
<circle cx="227.4" cy="1192.1" r="5.1" fill="#D9ABDF"/>
<circle cx="262.7" cy="1194.4" r="5.1" fill="#D9ABDF"/>
<circle cx="266.6" cy="1199.7" r="5.1" fill="#D9ABDF"/>
<circle cx="176.8" cy="1202.0" r="5.1" fill="#D9ABDF"/>
<circle cx="242.8" cy="1201.3" r="5.1" fill="#D9ABDF"/>
<circle cx="229.0" cy="1204.3" r="5.1" fill="#D9ABDF"/>
<circle cx="212.9" cy="1205.9" r="5.1" fill="#D9ABDF"/>
<circle cx="288.8" cy="1203.6" r="5.1" fill="#D9ABDF"/>
<circle cx="285.7" cy="1208.2" r="5.1" fill="#D9ABDF"/>
<circle cx="275.0" cy="1206.6" r="5.1" fill="#D9ABDF"/>
<circle cx="276.5" cy="1212.8" r="5.1" fill="#D9ABDF"/>
<circle cx="235.1" cy="1212.8" r="5.1" fill="#D9ABDF"/>
<circle cx="195.2" cy="1212.0" r="5.1" fill="#D9ABDF"/>
<circle cx="180.7" cy="1214.3" r="5.1" fill="#D9ABDF"/>
<circle cx="182.2" cy="1217.4" r="5.1" fill="#D9ABDF"/>
<circle cx="302.6" cy="1215.8" r="5.1" fill="#D9ABDF"/>
<circle cx="210.6" cy="1219.7" r="5.1" fill="#D9ABDF"/>
<circle cx="214.4" cy="1220.4" r="5.1" fill="#D9ABDF"/>
<circle cx="301.1" cy="1223.5" r="5.1" fill="#D9ABDF"/>
<circle cx="310.3" cy="1222.7" r="5.1" fill="#D9ABDF"/>
<circle cx="232.0" cy="1224.3" r="5.1" fill="#D9ABDF"/>
<circle cx="260.4" cy="1224.3" r="5.1" fill="#D9ABDF"/>
<circle cx="285.0" cy="1225.0" r="5.1" fill="#D9ABDF"/>
<circle cx="199.8" cy="1230.4" r="5.1" fill="#D9ABDF"/>
<circle cx="245.8" cy="1232.0" r="5.1" fill="#D9ABDF"/>
<circle cx="273.5" cy="1231.2" r="5.1" fill="#D9ABDF"/>
<circle cx="230.5" cy="1236.6" r="5.1" fill="#D9ABDF"/>
<circle cx="189.1" cy="1240.4" r="5.1" fill="#D9ABDF"/>
<circle cx="293.4" cy="1237.3" r="5.1" fill="#D9ABDF"/>
<circle cx="293.4" cy="1241.9" r="5.1" fill="#D9ABDF"/>
<circle cx="280.4" cy="1242.7" r="5.1" fill="#D9ABDF"/>
<circle cx="258.9" cy="1243.5" r="5.1" fill="#D9ABDF"/>
<circle cx="236.6" cy="1246.5" r="5.1" fill="#D9ABDF"/>
<circle cx="241.2" cy="1248.1" r="5.1" fill="#D9ABDF"/>
<circle cx="203.7" cy="1248.8" r="5.1" fill="#D9ABDF"/>
<circle cx="209.0" cy="1250.4" r="5.1" fill="#D9ABDF"/>
<circle cx="189.1" cy="1254.2" r="5.1" fill="#D9ABDF"/>
<circle cx="156.1" cy="1259.6" r="5.1" fill="#D9ABDF"/>
<circle cx="215.9" cy="1260.3" r="5.1" fill="#D9ABDF"/>
<circle cx="236.6" cy="1261.1" r="5.1" fill="#D9ABDF"/>
<circle cx="258.1" cy="1264.9" r="5.1" fill="#D9ABDF"/>
<circle cx="291.9" cy="1264.2" r="5.1" fill="#D9ABDF"/>
<circle cx="298.8" cy="1263.4" r="5.1" fill="#D9ABDF"/>
<circle cx="149.2" cy="1269.5" r="5.1" fill="#D9ABDF"/>
<circle cx="163.8" cy="1268.0" r="5.1" fill="#D9ABDF"/>
<circle cx="273.5" cy="1268.0" r="5.1" fill="#D9ABDF"/>
<circle cx="227.4" cy="1269.5" r="5.1" fill="#D9ABDF"/>
<circle cx="309.5" cy="1271.8" r="5.1" fill="#D9ABDF"/>
<circle cx="182.2" cy="1273.4" r="5.1" fill="#D9ABDF"/>
<circle cx="230.5" cy="1273.4" r="5.1" fill="#D9ABDF"/>
<circle cx="152.3" cy="1276.4" r="5.1" fill="#D9ABDF"/>
<circle cx="168.4" cy="1278.7" r="5.1" fill="#D9ABDF"/>
<circle cx="265.8" cy="1277.2" r="5.1" fill="#D9ABDF"/>
<circle cx="297.2" cy="1275.7" r="5.1" fill="#D9ABDF"/>
<circle cx="329.4" cy="1276.4" r="5.1" fill="#D9ABDF"/>
<circle cx="332.5" cy="1281.0" r="5.1" fill="#D9ABDF"/>
<circle cx="225.1" cy="1278.7" r="5.1" fill="#D9ABDF"/>
<circle cx="294.9" cy="1280.3" r="5.1" fill="#D9ABDF"/>
<circle cx="275.8" cy="1281.8" r="5.1" fill="#D9ABDF"/>
<circle cx="220.5" cy="1284.1" r="5.1" fill="#D9ABDF"/>
<circle cx="291.1" cy="1289.5" r="5.1" fill="#D9ABDF"/>
<circle cx="293.4" cy="1295.6" r="5.1" fill="#D9ABDF"/>
<circle cx="193.7" cy="1297.9" r="5.1" fill="#D9ABDF"/>
<circle cx="202.1" cy="1294.8" r="5.1" fill="#D9ABDF"/>
<circle cx="211.3" cy="1295.6" r="5.1" fill="#D9ABDF"/>
<circle cx="254.3" cy="1300.2" r="5.1" fill="#D9ABDF"/>
<circle cx="294.9" cy="1302.5" r="5.1" fill="#D9ABDF"/>
<circle cx="299.5" cy="1302.5" r="5.1" fill="#D9ABDF"/>
<circle cx="311.0" cy="1301.0" r="5.1" fill="#D9ABDF"/>
<circle cx="206.0" cy="1305.6" r="5.1" fill="#D9ABDF"/>
<circle cx="237.4" cy="1305.6" r="5.1" fill="#D9ABDF"/>
<circle cx="245.1" cy="1306.3" r="5.1" fill="#D9ABDF"/>
<circle cx="261.2" cy="1307.1" r="5.1" fill="#D9ABDF"/>
<circle cx="341.7" cy="1307.9" r="5.1" fill="#D9ABDF"/>
<circle cx="309.5" cy="1311.7" r="5.1" fill="#D9ABDF"/>
<rect x="221.95" y="1191.25" width="48.6" height="48.6" fill="none" stroke="#000" stroke-width="1.9"/>
<line x1="149.0" y1="1118.3" x2="149.0" y2="1313.45" stroke="#262626" stroke-width="1.7"/>
<line x1="148.35" y1="1312.8" x2="343.5" y2="1312.8" stroke="#262626" stroke-width="1.7"/>
<line x1="246.25" y1="1312.8" x2="246.25" y2="1310.3" stroke="#262626" stroke-width="1.7"/>
<line x1="149.0" y1="1215.55" x2="151.5" y2="1215.55" stroke="#262626" stroke-width="1.7"/>
<line x1="149.0" y1="1118.3" x2="151.5" y2="1118.3" stroke="#262626" stroke-width="1.7"/>
<line x1="343.5" y1="1312.8" x2="343.5" y2="1310.3" stroke="#262626" stroke-width="1.7"/>
<text x="149.0" y="1351.6" font-size="30" text-anchor="middle" font-weight="normal">-20</text>
<text x="140.5" y="1324.1" font-size="30" text-anchor="end" font-weight="normal">-20</text>
<text x="246.25" y="1351.6" font-size="30" text-anchor="middle" font-weight="normal">0</text>
<text x="140.5" y="1226.85" font-size="30" text-anchor="end" font-weight="normal">0</text>
<text x="343.5" y="1351.6" font-size="30" text-anchor="middle" font-weight="normal">20</text>
<text x="140.5" y="1129.6" font-size="30" text-anchor="end" font-weight="normal">20</text>
<rect x="147.0" y="1217.5" width="4" height="4.5" fill="#fff"/>
<rect x="147.0" y="1226" width="4" height="9.5" fill="#fff"/>
<circle cx="537.0" cy="1254.2" r="4.9" fill="#D9ABDF"/>
<circle cx="570.5" cy="1228.1" r="4.9" fill="#B25FCB"/>
<circle cx="566.7" cy="1220.4" r="4.9" fill="#B25FCB"/>
<circle cx="566.1" cy="1218.1" r="4.9" fill="#B25FCB"/>
<circle cx="565.6" cy="1215.8" r="4.9" fill="#B25FCB"/>
<circle cx="566.2" cy="1206.6" r="4.9" fill="#B25FCB"/>
<circle cx="567.2" cy="1202.8" r="4.9" fill="#B25FCB"/>
<circle cx="568.2" cy="1199.0" r="4.9" fill="#B25FCB"/>
<circle cx="572.0" cy="1191.3" r="4.9" fill="#B25FCB"/>
<circle cx="574.7" cy="1187.8" r="4.9" fill="#B25FCB"/>
<circle cx="577.4" cy="1184.4" r="4.9" fill="#B25FCB"/>
<circle cx="582.8" cy="1178.3" r="4.9" fill="#B25FCB"/>
<circle cx="585.8" cy="1175.6" r="4.9" fill="#B25FCB"/>
<circle cx="588.9" cy="1172.9" r="4.9" fill="#B25FCB"/>
<circle cx="594.3" cy="1167.5" r="4.9" fill="#B25FCB"/>
<circle cx="597.7" cy="1165.2" r="4.9" fill="#B25FCB"/>
<circle cx="601.2" cy="1162.9" r="4.9" fill="#B25FCB"/>
<circle cx="608.1" cy="1159.1" r="4.9" fill="#B25FCB"/>
<circle cx="611.5" cy="1156.9" r="4.9" fill="#B25FCB"/>
<circle cx="615.0" cy="1154.8" r="4.9" fill="#B25FCB"/>
<circle cx="622.6" cy="1154.2" r="4.9" fill="#B25FCB"/>
<circle cx="631.5" cy="1153.7" r="4.9" fill="#B25FCB"/>
<circle cx="640.3" cy="1156.5" r="4.9" fill="#B25FCB"/>
<circle cx="651.0" cy="1157.2" r="4.9" fill="#B25FCB"/>
<circle cx="659.5" cy="1161.1" r="4.9" fill="#B25FCB"/>
<circle cx="667.1" cy="1165.2" r="4.9" fill="#B25FCB"/>
<circle cx="669.4" cy="1171.4" r="4.9" fill="#B25FCB"/>
<circle cx="672.5" cy="1172.1" r="4.9" fill="#B25FCB"/>
<circle cx="675.6" cy="1172.9" r="4.9" fill="#B25FCB"/>
<circle cx="681.7" cy="1179.0" r="4.9" fill="#B25FCB"/>
<circle cx="687.8" cy="1185.9" r="4.9" fill="#B25FCB"/>
<circle cx="691.7" cy="1193.6" r="4.9" fill="#B25FCB"/>
<circle cx="693.2" cy="1197.4" r="4.9" fill="#B25FCB"/>
<circle cx="694.7" cy="1201.3" r="4.9" fill="#B25FCB"/>
<circle cx="696.6" cy="1210.5" r="4.9" fill="#B25FCB"/>
<circle cx="699.3" cy="1220.4" r="4.9" fill="#B25FCB"/>
<circle cx="692.4" cy="1224.3" r="4.9" fill="#B25FCB"/>
<circle cx="697.0" cy="1227.3" r="4.9" fill="#B25FCB"/>
<circle cx="704.7" cy="1234.3" r="4.9" fill="#B25FCB"/>
<circle cx="644.1" cy="1175.7" r="4.9" fill="#B25FCB"/>
<circle cx="645.2" cy="1185.5" r="4.9" fill="#B25FCB"/>
<circle cx="608.1" cy="1182.1" r="4.9" fill="#B25FCB"/>
<circle cx="655.6" cy="1193.6" r="4.9" fill="#B25FCB"/>
<circle cx="653.0" cy="1197.7" r="4.9" fill="#B25FCB"/>
<circle cx="600.9" cy="1206.2" r="4.9" fill="#B25FCB"/>
<circle cx="590.7" cy="1210.8" r="4.9" fill="#B25FCB"/>
<circle cx="681.2" cy="1214.3" r="4.9" fill="#B25FCB"/>
<circle cx="558.7" cy="1232.7" r="4.9" fill="#B25FCB"/>
<circle cx="604.5" cy="1238.9" r="4.9" fill="#B25FCB"/>
<circle cx="611.9" cy="1242.7" r="4.9" fill="#B25FCB"/>
<circle cx="702.4" cy="1249.9" r="4.9" fill="#B25FCB"/>
<circle cx="572.0" cy="1255.0" r="4.9" fill="#B25FCB"/>
<circle cx="621.9" cy="1254.2" r="4.9" fill="#B25FCB"/>
<circle cx="628.8" cy="1255.7" r="4.9" fill="#B25FCB"/>
<circle cx="628.0" cy="1259.6" r="4.9" fill="#B25FCB"/>
<circle cx="655.3" cy="1258.0" r="4.9" fill="#B25FCB"/>
<circle cx="599.9" cy="1260.8" r="4.9" fill="#B25FCB"/>
<circle cx="719.6" cy="1264.9" r="4.9" fill="#B25FCB"/>
<circle cx="717.7" cy="1266.5" r="4.9" fill="#B25FCB"/>
<circle cx="548.5" cy="1265.4" r="4.9" fill="#B25FCB"/>
<circle cx="599.6" cy="1271.5" r="4.9" fill="#B25FCB"/>
<circle cx="608.8" cy="1273.8" r="4.9" fill="#B25FCB"/>
<circle cx="622.3" cy="1270.3" r="4.9" fill="#B25FCB"/>
<circle cx="654.5" cy="1274.9" r="4.9" fill="#B25FCB"/>
<circle cx="657.2" cy="1278.7" r="4.9" fill="#B25FCB"/>
<circle cx="542.9" cy="1280.6" r="4.9" fill="#B25FCB"/>
<circle cx="609.1" cy="1286.4" r="4.9" fill="#B25FCB"/>
<circle cx="619.6" cy="1290.2" r="4.9" fill="#B25FCB"/>
<circle cx="656.7" cy="1298.4" r="4.9" fill="#B25FCB"/>
<circle cx="694.0" cy="1295.6" r="4.9" fill="#B25FCB"/>
<circle cx="685.5" cy="1301.0" r="4.9" fill="#B25FCB"/>
<circle cx="648.4" cy="1303.6" r="4.9" fill="#B25FCB"/>
<circle cx="719.6" cy="1301.7" r="4.9" fill="#B25FCB"/>
<circle cx="627.5" cy="1304.8" r="4.9" fill="#B25FCB"/>
<circle cx="559.0" cy="1305.6" r="4.9" fill="#B25FCB"/>
<rect x="608.95" y="1191.25" width="48.6" height="48.6" fill="none" stroke="#000" stroke-width="1.9"/>
<line x1="536.0" y1="1118.3" x2="536.0" y2="1313.45" stroke="#262626" stroke-width="1.7"/>
<line x1="535.35" y1="1312.8" x2="730.5" y2="1312.8" stroke="#262626" stroke-width="1.7"/>
<line x1="633.25" y1="1312.8" x2="633.25" y2="1310.3" stroke="#262626" stroke-width="1.7"/>
<line x1="536.0" y1="1215.55" x2="538.5" y2="1215.55" stroke="#262626" stroke-width="1.7"/>
<line x1="536.0" y1="1118.3" x2="538.5" y2="1118.3" stroke="#262626" stroke-width="1.7"/>
<line x1="730.5" y1="1312.8" x2="730.5" y2="1310.3" stroke="#262626" stroke-width="1.7"/>
<text x="536.0" y="1351.6" font-size="30" text-anchor="middle" font-weight="normal">-20</text>
<text x="527.5" y="1324.1" font-size="30" text-anchor="end" font-weight="normal">-20</text>
<text x="633.25" y="1351.6" font-size="30" text-anchor="middle" font-weight="normal">0</text>
<text x="527.5" y="1226.85" font-size="30" text-anchor="end" font-weight="normal">0</text>
<text x="730.5" y="1351.6" font-size="30" text-anchor="middle" font-weight="normal">20</text>
<text x="527.5" y="1129.6" font-size="30" text-anchor="end" font-weight="normal">20</text>
<circle cx="978.4" cy="1161.4" r="4.9" fill="#D9ABDF"/>
<circle cx="1094.5" cy="1212.3" r="4.9" fill="#D9ABDF"/>
<circle cx="943.9" cy="1226.6" r="4.9" fill="#B25FCB"/>
<circle cx="949.3" cy="1215.8" r="4.9" fill="#B25FCB"/>
<circle cx="953.9" cy="1205.4" r="4.9" fill="#B25FCB"/>
<circle cx="958.0" cy="1195.1" r="4.9" fill="#B25FCB"/>
<circle cx="964.2" cy="1185.5" r="4.9" fill="#B25FCB"/>
<circle cx="972.6" cy="1177.5" r="4.9" fill="#B25FCB"/>
<circle cx="979.2" cy="1168.0" r="4.9" fill="#B25FCB"/>
<circle cx="988.7" cy="1160.3" r="4.9" fill="#B25FCB"/>
<circle cx="1016.0" cy="1155.7" r="4.9" fill="#B25FCB"/>
<circle cx="1029.3" cy="1155.7" r="4.9" fill="#B25FCB"/>
<circle cx="1042.4" cy="1157.6" r="4.9" fill="#B25FCB"/>
<circle cx="1053.9" cy="1161.8" r="4.9" fill="#B25FCB"/>
<circle cx="1063.9" cy="1169.1" r="4.9" fill="#B25FCB"/>
<circle cx="1074.6" cy="1172.6" r="4.9" fill="#B25FCB"/>
<circle cx="1074.9" cy="1184.1" r="4.9" fill="#B25FCB"/>
<circle cx="1080.0" cy="1195.9" r="4.9" fill="#B25FCB"/>
<circle cx="1085.3" cy="1206.9" r="4.9" fill="#B25FCB"/>
<circle cx="1089.9" cy="1225.4" r="4.9" fill="#B25FCB"/>
<circle cx="1012.9" cy="1188.2" r="4.9" fill="#B25FCB"/>
<circle cx="1007.9" cy="1195.9" r="4.9" fill="#B25FCB"/>
<circle cx="1040.1" cy="1195.1" r="4.9" fill="#B25FCB"/>
<circle cx="1037.8" cy="1203.3" r="4.9" fill="#B25FCB"/>
<circle cx="1070.3" cy="1205.1" r="4.9" fill="#B25FCB"/>
<circle cx="981.8" cy="1211.2" r="4.9" fill="#B25FCB"/>
<circle cx="1062.8" cy="1224.3" r="4.9" fill="#B25FCB"/>
<circle cx="1002.5" cy="1238.1" r="4.9" fill="#B25FCB"/>
<circle cx="1007.1" cy="1238.1" r="4.9" fill="#B25FCB"/>
<circle cx="1013.2" cy="1243.5" r="4.9" fill="#B25FCB"/>
<circle cx="1017.8" cy="1245.3" r="4.9" fill="#B25FCB"/>
<circle cx="1049.6" cy="1240.1" r="4.9" fill="#B25FCB"/>
<circle cx="1080.0" cy="1243.5" r="4.9" fill="#B25FCB"/>
<circle cx="924.0" cy="1247.6" r="4.9" fill="#B25FCB"/>
<circle cx="949.6" cy="1246.5" r="4.9" fill="#B25FCB"/>
<circle cx="963.4" cy="1248.4" r="4.9" fill="#B25FCB"/>
<circle cx="988.7" cy="1249.9" r="4.9" fill="#B25FCB"/>
<circle cx="993.3" cy="1249.3" r="4.9" fill="#B25FCB"/>
<circle cx="1106.8" cy="1254.2" r="4.9" fill="#B25FCB"/>
<circle cx="1062.3" cy="1258.5" r="4.9" fill="#B25FCB"/>
<circle cx="956.9" cy="1269.5" r="4.9" fill="#B25FCB"/>
<circle cx="934.5" cy="1271.8" r="4.9" fill="#B25FCB"/>
<circle cx="1098.7" cy="1273.1" r="4.9" fill="#B25FCB"/>
<circle cx="983.6" cy="1279.5" r="4.9" fill="#B25FCB"/>
<circle cx="992.1" cy="1284.1" r="4.9" fill="#B25FCB"/>
<circle cx="950.3" cy="1292.9" r="4.9" fill="#B25FCB"/>
<circle cx="1050.8" cy="1296.8" r="4.9" fill="#B25FCB"/>
<circle cx="1002.2" cy="1159.1" r="4.9" fill="#7A2C86"/>
<rect x="995.6500000000001" y="1191.25" width="48.6" height="48.6" fill="none" stroke="#000" stroke-width="1.9"/>
<line x1="922.7" y1="1118.3" x2="922.7" y2="1313.45" stroke="#262626" stroke-width="1.7"/>
<line x1="922.0500000000001" y1="1312.8" x2="1117.2" y2="1312.8" stroke="#262626" stroke-width="1.7"/>
<line x1="1019.95" y1="1312.8" x2="1019.95" y2="1310.3" stroke="#262626" stroke-width="1.7"/>
<line x1="922.7" y1="1215.55" x2="925.2" y2="1215.55" stroke="#262626" stroke-width="1.7"/>
<line x1="922.7" y1="1118.3" x2="925.2" y2="1118.3" stroke="#262626" stroke-width="1.7"/>
<line x1="1117.2" y1="1312.8" x2="1117.2" y2="1310.3" stroke="#262626" stroke-width="1.7"/>
<text x="922.7" y="1351.6" font-size="30" text-anchor="middle" font-weight="normal">-20</text>
<text x="914.2" y="1324.1" font-size="30" text-anchor="end" font-weight="normal">-20</text>
<text x="1019.95" y="1351.6" font-size="30" text-anchor="middle" font-weight="normal">0</text>
<text x="914.2" y="1226.85" font-size="30" text-anchor="end" font-weight="normal">0</text>
<text x="1117.2" y="1351.6" font-size="30" text-anchor="middle" font-weight="normal">20</text>
<text x="914.2" y="1129.6" font-size="30" text-anchor="end" font-weight="normal">20</text>
<rect x="920.7" y="1137" width="4" height="6" fill="#fff"/>
<circle cx="1487.0" cy="1302.5" r="4.9" fill="#D3A0DC"/>
<circle cx="1363.7" cy="1241.2" r="4.9" fill="#B25FCB"/>
<circle cx="1456.0" cy="1241.6" r="4.9" fill="#B25FCB"/>
<circle cx="1385.4" cy="1274.9" r="4.9" fill="#B25FCB"/>
<circle cx="1410.7" cy="1288.2" r="4.9" fill="#B25FCB"/>
<circle cx="1373.2" cy="1296.8" r="4.9" fill="#B25FCB"/>
<circle cx="1464.9" cy="1297.1" r="4.9" fill="#B25FCB"/>
<circle cx="1378.5" cy="1225.8" r="4.9" fill="#9A4BAB"/>
<circle cx="1384.7" cy="1231.2" r="4.9" fill="#9A4BAB"/>
<circle cx="1430.7" cy="1225.8" r="4.9" fill="#9A4BAB"/>
<circle cx="1434.5" cy="1223.5" r="4.9" fill="#9A4BAB"/>
<circle cx="1438.4" cy="1228.9" r="4.9" fill="#9A4BAB"/>
<circle cx="1420.0" cy="1239.6" r="4.9" fill="#9A4BAB"/>
<circle cx="1428.4" cy="1243.1" r="4.9" fill="#9A4BAB"/>
<circle cx="1383.9" cy="1191.3" r="4.9" fill="#7A2C86"/>
<circle cx="1404.6" cy="1191.3" r="4.9" fill="#7A2C86"/>
<circle cx="1409.2" cy="1192.1" r="4.9" fill="#7A2C86"/>
<circle cx="1428.1" cy="1190.5" r="4.9" fill="#7A2C86"/>
<circle cx="1387.7" cy="1196.7" r="4.9" fill="#7A2C86"/>
<circle cx="1392.3" cy="1199.0" r="4.9" fill="#7A2C86"/>
<circle cx="1387.7" cy="1203.6" r="4.9" fill="#7A2C86"/>
<circle cx="1390.0" cy="1210.5" r="4.9" fill="#7A2C86"/>
<circle cx="1426.1" cy="1197.4" r="4.9" fill="#7A2C86"/>
<circle cx="1420.0" cy="1204.3" r="4.9" fill="#7A2C86"/>
<circle cx="1423.8" cy="1209.7" r="4.9" fill="#7A2C86"/>
<circle cx="1425.3" cy="1215.1" r="4.9" fill="#7A2C86"/>
<circle cx="1383.9" cy="1221.2" r="4.9" fill="#7A2C86"/>
<circle cx="1426.9" cy="1203.6" r="4.9" fill="#7A2C86"/>
<rect x="1381.65" y="1191.25" width="48.6" height="48.6" fill="none" stroke="#000" stroke-width="1.9"/>
<line x1="1308.7" y1="1118.3" x2="1308.7" y2="1313.45" stroke="#262626" stroke-width="1.7"/>
<line x1="1308.05" y1="1312.8" x2="1503.2" y2="1312.8" stroke="#262626" stroke-width="1.7"/>
<line x1="1405.95" y1="1312.8" x2="1405.95" y2="1310.3" stroke="#262626" stroke-width="1.7"/>
<line x1="1308.7" y1="1215.55" x2="1311.2" y2="1215.55" stroke="#262626" stroke-width="1.7"/>
<line x1="1308.7" y1="1118.3" x2="1311.2" y2="1118.3" stroke="#262626" stroke-width="1.7"/>
<line x1="1503.2" y1="1312.8" x2="1503.2" y2="1310.3" stroke="#262626" stroke-width="1.7"/>
<text x="1308.7" y="1351.6" font-size="30" text-anchor="middle" font-weight="normal">-20</text>
<text x="1300.2" y="1324.1" font-size="30" text-anchor="end" font-weight="normal">-20</text>
<text x="1405.95" y="1351.6" font-size="30" text-anchor="middle" font-weight="normal">0</text>
<text x="1300.2" y="1226.85" font-size="30" text-anchor="end" font-weight="normal">0</text>
<text x="1503.2" y="1351.6" font-size="30" text-anchor="middle" font-weight="normal">20</text>
<text x="1300.2" y="1129.6" font-size="30" text-anchor="end" font-weight="normal">20</text>
<rect x="1306.7" y="1134.5" width="4" height="10.799999999999955" fill="#fff"/>
<text x="43.3" y="1215" font-size="33.6" text-anchor="middle" font-weight="normal" transform="rotate(-90 43.3 1215)">Predicted charge</text>
<text x="84.4" y="1215.4" font-size="33.6" text-anchor="middle" font-weight="normal" transform="rotate(-90 84.4 1215.4)">locations</text>
</svg>
</body></html>
